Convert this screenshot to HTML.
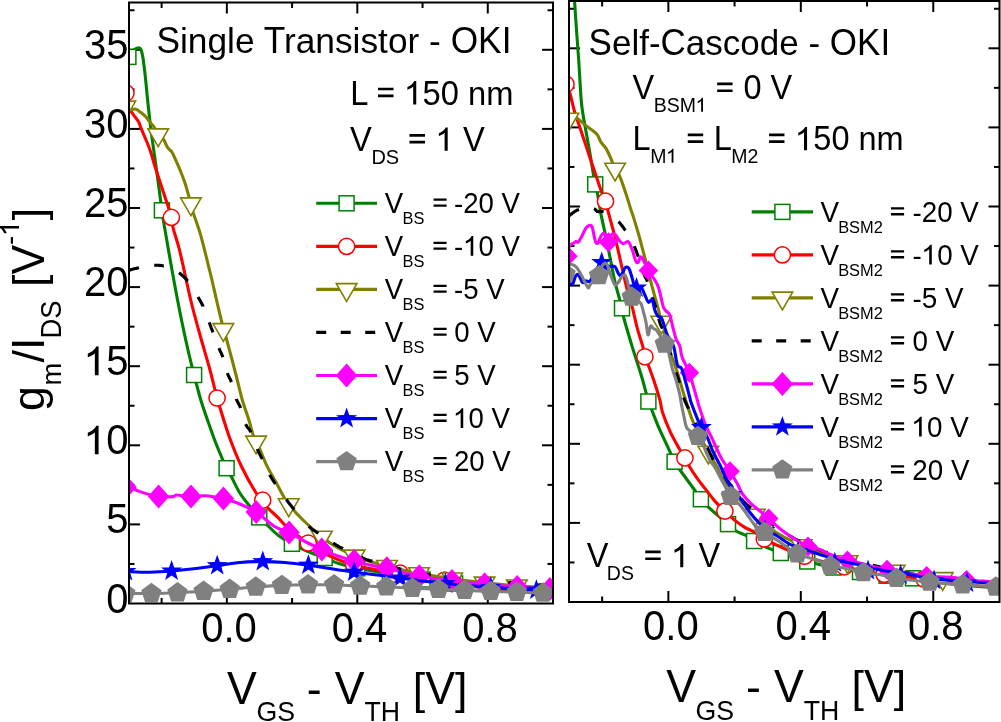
<!DOCTYPE html>
<html><head><meta charset="utf-8"><style>
html,body{margin:0;padding:0;background:#fff;}
svg{display:block;will-change:transform;}
text{font-family:"Liberation Sans",sans-serif;fill:#000;}
</style></head><body>
<svg width="1001" height="722" viewBox="0 0 1001 722">
<rect width="1001" height="722" fill="#fff"></rect>
<line x1="161.62" y1="603.5" x2="161.62" y2="598.0" stroke="#000" stroke-width="2"></line>
<line x1="161.62" y1="2.5" x2="161.62" y2="8.0" stroke="#000" stroke-width="2"></line>
<line x1="226.85" y1="603.5" x2="226.85" y2="592.5" stroke="#000" stroke-width="2"></line>
<line x1="226.85" y1="2.5" x2="226.85" y2="13.5" stroke="#000" stroke-width="2"></line>
<line x1="292.08" y1="603.5" x2="292.08" y2="598.0" stroke="#000" stroke-width="2"></line>
<line x1="292.08" y1="2.5" x2="292.08" y2="8.0" stroke="#000" stroke-width="2"></line>
<line x1="357.31" y1="603.5" x2="357.31" y2="592.5" stroke="#000" stroke-width="2"></line>
<line x1="357.31" y1="2.5" x2="357.31" y2="13.5" stroke="#000" stroke-width="2"></line>
<line x1="422.54" y1="603.5" x2="422.54" y2="598.0" stroke="#000" stroke-width="2"></line>
<line x1="422.54" y1="2.5" x2="422.54" y2="8.0" stroke="#000" stroke-width="2"></line>
<line x1="487.77" y1="603.5" x2="487.77" y2="592.5" stroke="#000" stroke-width="2"></line>
<line x1="487.77" y1="2.5" x2="487.77" y2="13.5" stroke="#000" stroke-width="2"></line>
<line x1="129.0" y1="563.95" x2="134.5" y2="563.95" stroke="#000" stroke-width="2"></line>
<line x1="553.0" y1="563.95" x2="547.5" y2="563.95" stroke="#000" stroke-width="2"></line>
<line x1="129.0" y1="524.40" x2="140.0" y2="524.40" stroke="#000" stroke-width="2"></line>
<line x1="553.0" y1="524.40" x2="542.0" y2="524.40" stroke="#000" stroke-width="2"></line>
<line x1="129.0" y1="484.85" x2="134.5" y2="484.85" stroke="#000" stroke-width="2"></line>
<line x1="553.0" y1="484.85" x2="547.5" y2="484.85" stroke="#000" stroke-width="2"></line>
<line x1="129.0" y1="445.30" x2="140.0" y2="445.30" stroke="#000" stroke-width="2"></line>
<line x1="553.0" y1="445.30" x2="542.0" y2="445.30" stroke="#000" stroke-width="2"></line>
<line x1="129.0" y1="405.75" x2="134.5" y2="405.75" stroke="#000" stroke-width="2"></line>
<line x1="553.0" y1="405.75" x2="547.5" y2="405.75" stroke="#000" stroke-width="2"></line>
<line x1="129.0" y1="366.20" x2="140.0" y2="366.20" stroke="#000" stroke-width="2"></line>
<line x1="553.0" y1="366.20" x2="542.0" y2="366.20" stroke="#000" stroke-width="2"></line>
<line x1="129.0" y1="326.65" x2="134.5" y2="326.65" stroke="#000" stroke-width="2"></line>
<line x1="553.0" y1="326.65" x2="547.5" y2="326.65" stroke="#000" stroke-width="2"></line>
<line x1="129.0" y1="287.10" x2="140.0" y2="287.10" stroke="#000" stroke-width="2"></line>
<line x1="553.0" y1="287.10" x2="542.0" y2="287.10" stroke="#000" stroke-width="2"></line>
<line x1="129.0" y1="247.55" x2="134.5" y2="247.55" stroke="#000" stroke-width="2"></line>
<line x1="553.0" y1="247.55" x2="547.5" y2="247.55" stroke="#000" stroke-width="2"></line>
<line x1="129.0" y1="208.00" x2="140.0" y2="208.00" stroke="#000" stroke-width="2"></line>
<line x1="553.0" y1="208.00" x2="542.0" y2="208.00" stroke="#000" stroke-width="2"></line>
<line x1="129.0" y1="168.45" x2="134.5" y2="168.45" stroke="#000" stroke-width="2"></line>
<line x1="553.0" y1="168.45" x2="547.5" y2="168.45" stroke="#000" stroke-width="2"></line>
<line x1="129.0" y1="128.90" x2="140.0" y2="128.90" stroke="#000" stroke-width="2"></line>
<line x1="553.0" y1="128.90" x2="542.0" y2="128.90" stroke="#000" stroke-width="2"></line>
<line x1="129.0" y1="89.35" x2="134.5" y2="89.35" stroke="#000" stroke-width="2"></line>
<line x1="553.0" y1="89.35" x2="547.5" y2="89.35" stroke="#000" stroke-width="2"></line>
<line x1="129.0" y1="49.80" x2="140.0" y2="49.80" stroke="#000" stroke-width="2"></line>
<line x1="553.0" y1="49.80" x2="542.0" y2="49.80" stroke="#000" stroke-width="2"></line>
<line x1="129.0" y1="10.25" x2="134.5" y2="10.25" stroke="#000" stroke-width="2"></line>
<line x1="553.0" y1="10.25" x2="547.5" y2="10.25" stroke="#000" stroke-width="2"></line>
<line x1="602.12" y1="602.0" x2="602.12" y2="596.5" stroke="#000" stroke-width="2"></line>
<line x1="602.12" y1="1.0" x2="602.12" y2="6.5" stroke="#000" stroke-width="2"></line>
<line x1="668.35" y1="602.0" x2="668.35" y2="591.0" stroke="#000" stroke-width="2"></line>
<line x1="668.35" y1="1.0" x2="668.35" y2="12.0" stroke="#000" stroke-width="2"></line>
<line x1="734.58" y1="602.0" x2="734.58" y2="596.5" stroke="#000" stroke-width="2"></line>
<line x1="734.58" y1="1.0" x2="734.58" y2="6.5" stroke="#000" stroke-width="2"></line>
<line x1="800.81" y1="602.0" x2="800.81" y2="591.0" stroke="#000" stroke-width="2"></line>
<line x1="800.81" y1="1.0" x2="800.81" y2="12.0" stroke="#000" stroke-width="2"></line>
<line x1="867.04" y1="602.0" x2="867.04" y2="596.5" stroke="#000" stroke-width="2"></line>
<line x1="867.04" y1="1.0" x2="867.04" y2="6.5" stroke="#000" stroke-width="2"></line>
<line x1="933.27" y1="602.0" x2="933.27" y2="591.0" stroke="#000" stroke-width="2"></line>
<line x1="933.27" y1="1.0" x2="933.27" y2="12.0" stroke="#000" stroke-width="2"></line>
<line x1="569.0" y1="562.45" x2="574.5" y2="562.45" stroke="#000" stroke-width="2"></line>
<line x1="999.5" y1="562.45" x2="994.0" y2="562.45" stroke="#000" stroke-width="2"></line>
<line x1="569.0" y1="522.90" x2="580.0" y2="522.90" stroke="#000" stroke-width="2"></line>
<line x1="999.5" y1="522.90" x2="988.5" y2="522.90" stroke="#000" stroke-width="2"></line>
<line x1="569.0" y1="483.35" x2="574.5" y2="483.35" stroke="#000" stroke-width="2"></line>
<line x1="999.5" y1="483.35" x2="994.0" y2="483.35" stroke="#000" stroke-width="2"></line>
<line x1="569.0" y1="443.80" x2="580.0" y2="443.80" stroke="#000" stroke-width="2"></line>
<line x1="999.5" y1="443.80" x2="988.5" y2="443.80" stroke="#000" stroke-width="2"></line>
<line x1="569.0" y1="404.25" x2="574.5" y2="404.25" stroke="#000" stroke-width="2"></line>
<line x1="999.5" y1="404.25" x2="994.0" y2="404.25" stroke="#000" stroke-width="2"></line>
<line x1="569.0" y1="364.70" x2="580.0" y2="364.70" stroke="#000" stroke-width="2"></line>
<line x1="999.5" y1="364.70" x2="988.5" y2="364.70" stroke="#000" stroke-width="2"></line>
<line x1="569.0" y1="325.15" x2="574.5" y2="325.15" stroke="#000" stroke-width="2"></line>
<line x1="999.5" y1="325.15" x2="994.0" y2="325.15" stroke="#000" stroke-width="2"></line>
<line x1="569.0" y1="285.60" x2="580.0" y2="285.60" stroke="#000" stroke-width="2"></line>
<line x1="999.5" y1="285.60" x2="988.5" y2="285.60" stroke="#000" stroke-width="2"></line>
<line x1="569.0" y1="246.05" x2="574.5" y2="246.05" stroke="#000" stroke-width="2"></line>
<line x1="999.5" y1="246.05" x2="994.0" y2="246.05" stroke="#000" stroke-width="2"></line>
<line x1="569.0" y1="206.50" x2="580.0" y2="206.50" stroke="#000" stroke-width="2"></line>
<line x1="999.5" y1="206.50" x2="988.5" y2="206.50" stroke="#000" stroke-width="2"></line>
<line x1="569.0" y1="166.95" x2="574.5" y2="166.95" stroke="#000" stroke-width="2"></line>
<line x1="999.5" y1="166.95" x2="994.0" y2="166.95" stroke="#000" stroke-width="2"></line>
<line x1="569.0" y1="127.40" x2="580.0" y2="127.40" stroke="#000" stroke-width="2"></line>
<line x1="999.5" y1="127.40" x2="988.5" y2="127.40" stroke="#000" stroke-width="2"></line>
<line x1="569.0" y1="87.85" x2="574.5" y2="87.85" stroke="#000" stroke-width="2"></line>
<line x1="999.5" y1="87.85" x2="994.0" y2="87.85" stroke="#000" stroke-width="2"></line>
<line x1="569.0" y1="48.30" x2="580.0" y2="48.30" stroke="#000" stroke-width="2"></line>
<line x1="999.5" y1="48.30" x2="988.5" y2="48.30" stroke="#000" stroke-width="2"></line>
<line x1="569.0" y1="8.75" x2="574.5" y2="8.75" stroke="#000" stroke-width="2"></line>
<line x1="999.5" y1="8.75" x2="994.0" y2="8.75" stroke="#000" stroke-width="2"></line>
<defs><clipPath id="cl"><rect x="129.0" y="2.5" width="424.0" height="601.0"></rect></clipPath><clipPath id="cr"><rect x="569.0" y="1.0" width="430.5" height="601.0"></rect></clipPath></defs>
<g clip-path="url(#cl)">
<path d="M128.4,56.9C129.3,55.7 132.6,51.2 134.0,49.8C135.4,48.4 136.0,48.6 136.8,48.3C137.6,47.9 138.0,47.7 138.6,47.7C139.2,47.8 139.8,48.0 140.3,48.6C140.8,49.2 141.2,50.3 141.6,51.5C142.0,52.7 142.3,54.5 142.6,56.0C142.9,57.5 143.0,57.7 143.4,60.8C143.8,63.9 144.6,70.1 145.1,74.7C145.6,79.3 146.1,84.3 146.5,88.5C146.9,92.7 146.9,93.6 147.6,100.0C148.3,106.4 149.6,118.8 150.6,127.1C151.6,135.4 152.6,142.0 153.7,150.0C154.8,158.0 156.0,166.4 157.2,175.0C158.4,183.6 159.9,195.4 160.7,201.3C161.5,207.2 161.5,207.2 161.9,210.3C162.3,213.4 161.6,210.1 163.3,220.0C165.0,229.9 169.0,253.3 172.0,270.0C175.0,286.7 178.8,306.7 181.5,320.0C184.2,333.3 185.9,340.8 188.0,350.0C190.1,359.2 192.0,366.7 194.1,375.0C196.2,383.3 198.5,392.2 200.8,400.0C203.2,407.8 205.8,415.2 208.2,422.0C210.6,428.8 212.6,434.8 215.0,441.0C217.4,447.2 220.5,454.5 222.4,459.0C224.3,463.5 225.1,465.2 226.6,468.2C228.1,471.2 229.3,472.9 231.5,477.0C233.7,481.1 236.8,488.1 239.8,493.0C242.9,497.9 246.6,502.2 249.8,506.3C253.1,510.4 256.4,514.3 259.3,517.4C262.2,520.5 263.9,521.9 267.0,524.8C270.1,527.7 273.7,531.8 277.8,535.0C281.9,538.2 286.9,541.0 291.9,543.8C296.9,546.5 302.5,549.1 308.0,551.5C313.5,553.9 319.6,556.0 324.7,558.0C329.8,560.0 333.3,561.7 338.7,563.4C344.1,565.1 350.8,566.9 357.3,568.3C363.8,569.7 372.5,571.0 377.9,572.0C383.3,573.0 382.5,573.2 389.9,574.5C397.3,575.8 411.6,578.0 422.5,579.5C433.4,581.0 444.2,582.0 455.1,583.5C466.0,585.0 476.8,587.3 487.7,588.5C498.6,589.7 509.4,590.1 520.3,590.5C531.2,590.9 547.5,590.9 553.0,591.0" fill="none" stroke="#008000" stroke-width="3.1" stroke-linejoin="round"></path>
<rect x="120.9" y="49.4" width="15.0" height="15.0" fill="#fff" stroke="#008000" stroke-width="1.5"></rect>
<rect x="154.4" y="202.8" width="15.0" height="15.0" fill="#fff" stroke="#008000" stroke-width="1.5"></rect>
<rect x="186.6" y="367.5" width="15.0" height="15.0" fill="#fff" stroke="#008000" stroke-width="1.5"></rect>
<rect x="219.1" y="460.7" width="15.0" height="15.0" fill="#fff" stroke="#008000" stroke-width="1.5"></rect>
<rect x="251.8" y="509.9" width="15.0" height="15.0" fill="#fff" stroke="#008000" stroke-width="1.5"></rect>
<rect x="284.4" y="536.3" width="15.0" height="15.0" fill="#fff" stroke="#008000" stroke-width="1.5"></rect>
<rect x="317.2" y="550.5" width="15.0" height="15.0" fill="#fff" stroke="#008000" stroke-width="1.5"></rect>
<rect x="349.8" y="560.8" width="15.0" height="15.0" fill="#fff" stroke="#008000" stroke-width="1.5"></rect>
<rect x="382.4" y="567.0" width="15.0" height="15.0" fill="#fff" stroke="#008000" stroke-width="1.5"></rect>
<rect x="415.0" y="572.0" width="15.0" height="15.0" fill="#fff" stroke="#008000" stroke-width="1.5"></rect>
<rect x="447.6" y="576.0" width="15.0" height="15.0" fill="#fff" stroke="#008000" stroke-width="1.5"></rect>
<path d="M126.0,93.0C126.4,95.0 127.6,101.9 128.5,105.0C129.4,108.1 130.0,109.4 131.2,111.5C132.3,113.6 134.2,115.7 135.4,117.4C136.6,119.1 137.6,120.0 138.5,121.6C139.4,123.2 139.5,124.4 140.6,127.1C141.7,129.8 143.4,133.7 145.0,137.5C146.6,141.3 148.3,145.2 150.0,150.0C151.7,154.8 153.0,160.2 155.0,166.5C157.0,172.8 159.7,180.9 162.0,188.0C164.3,195.1 167.4,204.1 169.0,209.0C170.6,213.9 170.7,214.2 171.4,217.4C172.1,220.6 171.8,222.5 173.2,228.3C174.6,234.1 177.1,240.1 180.0,252.0C182.9,263.9 187.4,286.2 190.7,300.0C194.0,313.8 196.8,323.3 200.0,335.0C203.2,346.7 207.2,359.5 210.0,370.0C212.8,380.5 215.4,391.8 217.1,398.0C218.8,404.2 217.8,400.8 219.9,407.5C222.0,414.2 226.2,428.4 229.8,438.2C233.4,448.0 237.2,457.5 241.5,466.5C245.8,475.5 252.1,486.6 255.6,492.2C259.1,497.8 260.6,497.6 262.7,500.2C264.8,502.8 265.4,505.1 267.9,508.0C270.4,510.9 274.1,513.7 277.8,517.4C281.5,521.1 284.9,525.7 290.0,530.0C295.1,534.3 301.7,538.7 308.2,543.0C314.7,547.3 321.4,552.0 329.0,555.7C336.6,559.4 346.0,562.7 353.7,565.0C361.4,567.3 367.2,568.1 375.0,569.5C382.8,570.9 388.6,571.5 400.2,573.2C411.8,575.0 429.5,577.5 444.5,580.0C459.5,582.5 474.8,586.8 490.0,588.5C505.2,590.2 525.0,590.1 535.5,590.5C546.0,590.9 550.1,590.9 553.0,591.0" fill="none" stroke="#FF0000" stroke-width="3.1" stroke-linejoin="round"></path>
<circle cx="126.0" cy="93.0" r="8.1" fill="#fff" stroke="#FF0000" stroke-width="1.5"></circle>
<circle cx="171.4" cy="217.4" r="8.1" fill="#fff" stroke="#FF0000" stroke-width="1.5"></circle>
<circle cx="217.1" cy="398.0" r="8.1" fill="#fff" stroke="#FF0000" stroke-width="1.5"></circle>
<circle cx="262.7" cy="500.2" r="8.1" fill="#fff" stroke="#FF0000" stroke-width="1.5"></circle>
<circle cx="308.2" cy="543.0" r="8.1" fill="#fff" stroke="#FF0000" stroke-width="1.5"></circle>
<circle cx="353.7" cy="565.0" r="8.1" fill="#fff" stroke="#FF0000" stroke-width="1.5"></circle>
<circle cx="400.2" cy="573.2" r="8.1" fill="#fff" stroke="#FF0000" stroke-width="1.5"></circle>
<circle cx="444.5" cy="580.0" r="8.1" fill="#fff" stroke="#FF0000" stroke-width="1.5"></circle>
<path d="M125.3,106.9C126.0,107.4 127.8,109.6 129.5,110.0C131.2,110.4 133.5,108.7 135.4,109.1C137.3,109.5 139.3,111.3 141.0,112.6C142.7,113.9 144.3,115.1 145.8,116.7C147.3,118.3 148.6,120.6 150.0,122.3C151.4,124.0 152.7,125.0 154.1,127.1C155.5,129.2 156.7,132.8 158.2,134.7C159.7,136.6 161.5,136.6 163.1,138.7C164.7,140.8 166.1,145.2 167.5,147.4C168.9,149.6 170.5,149.7 171.8,151.8C173.2,153.9 174.2,156.9 175.6,159.9C177.0,162.9 178.6,166.4 180.0,169.9C181.4,173.4 183.1,177.6 184.3,181.1C185.5,184.6 186.3,187.3 187.4,191.1C188.5,194.9 190.0,200.1 190.9,203.7C191.8,207.3 191.5,207.3 193.1,212.5C194.7,217.7 197.8,225.0 200.6,234.9C203.4,244.8 207.3,261.1 210.0,272.0C212.7,282.9 214.5,291.6 216.5,300.0C218.5,308.4 220.7,317.5 221.8,322.4C222.9,327.3 222.5,326.6 223.3,329.4C224.1,332.2 224.4,331.4 226.5,339.0C228.6,346.6 233.4,364.8 236.0,375.0C238.6,385.2 240.2,392.5 242.3,400.0C244.5,407.5 247.1,414.2 248.9,420.0C250.7,425.8 251.9,431.2 253.1,434.9C254.3,438.5 255.1,439.7 256.1,441.9C257.2,444.1 257.7,444.4 259.4,448.2C261.1,452.0 263.6,459.0 266.4,464.8C269.2,470.6 273.5,477.6 276.4,483.0C279.3,488.4 281.8,493.4 283.8,497.0C285.9,500.6 285.5,500.8 288.7,504.6C291.9,508.4 297.5,514.6 303.0,520.0C308.5,525.4 316.1,532.3 321.9,537.0C327.7,541.7 332.6,544.9 338.0,548.0C343.4,551.1 349.3,553.6 354.6,555.9C359.9,558.1 364.6,559.8 370.0,561.5C375.4,563.2 378.8,564.3 387.0,566.3C395.2,568.3 408.1,571.4 419.0,573.5C429.9,575.6 441.3,577.2 452.2,578.8C463.1,580.4 473.8,581.7 484.6,582.9C495.4,584.1 506.0,584.9 516.8,585.8C527.6,586.6 543.4,587.6 549.4,588.0C555.4,588.4 552.4,588.2 553.0,588.2" fill="none" stroke="#808000" stroke-width="3.1" stroke-linejoin="round"></path>
<polygon points="115.0,101.1 135.6,101.1 125.3,118.9" fill="#fff" stroke="#808000" stroke-width="1.6"></polygon>
<polygon points="147.9,128.9 168.5,128.9 158.2,146.7" fill="#fff" stroke="#808000" stroke-width="1.6"></polygon>
<polygon points="180.6,197.9 201.2,197.9 190.9,215.7" fill="#fff" stroke="#808000" stroke-width="1.6"></polygon>
<polygon points="213.0,323.6 233.6,323.6 223.3,341.4" fill="#fff" stroke="#808000" stroke-width="1.6"></polygon>
<polygon points="245.8,436.1 266.4,436.1 256.1,453.9" fill="#fff" stroke="#808000" stroke-width="1.6"></polygon>
<polygon points="278.4,498.8 299.0,498.8 288.7,516.6" fill="#fff" stroke="#808000" stroke-width="1.6"></polygon>
<polygon points="311.6,531.2 332.2,531.2 321.9,549.0" fill="#fff" stroke="#808000" stroke-width="1.6"></polygon>
<polygon points="344.3,550.1 364.9,550.1 354.6,567.9" fill="#fff" stroke="#808000" stroke-width="1.6"></polygon>
<polygon points="376.7,560.5 397.3,560.5 387.0,578.3" fill="#fff" stroke="#808000" stroke-width="1.6"></polygon>
<polygon points="408.7,567.7 429.3,567.7 419.0,585.5" fill="#fff" stroke="#808000" stroke-width="1.6"></polygon>
<polygon points="441.9,573.0 462.5,573.0 452.2,590.8" fill="#fff" stroke="#808000" stroke-width="1.6"></polygon>
<polygon points="474.3,577.1 494.9,577.1 484.6,594.9" fill="#fff" stroke="#808000" stroke-width="1.6"></polygon>
<polygon points="506.5,580.0 527.1,580.0 516.8,597.8" fill="#fff" stroke="#808000" stroke-width="1.6"></polygon>
<path d="M129.4,270.1 L129.5,270.1 L130.1,269.9 L130.8,269.7 L131.6,269.5 L132.4,269.3 L133.3,269.1 L134.3,268.8 L135.2,268.6 L136.2,268.4 L137.2,268.1 L138.1,267.9 L139.0,267.7 L139.0,267.7M154.2,265.2 L154.3,265.2 L155.0,265.2 L155.6,265.2 L156.2,265.2 L156.8,265.3 L157.4,265.3 L158.0,265.3 L158.6,265.3 L159.1,265.3 L159.6,265.4 L160.1,265.4 L160.5,265.4 L161.0,265.5 L161.5,265.5 L161.9,265.6 L162.4,265.7 L162.9,265.8 L163.4,265.9 L163.8,265.9M179.0,272.8 L179.5,273.2 L180.0,273.5 L180.4,273.9 L180.9,274.2 L181.3,274.5 L181.7,274.9 L182.1,275.2 L182.5,275.6 L182.9,275.9 L183.2,276.3 L183.6,276.6 L184.0,277.0 L184.4,277.4 L184.7,277.7 L185.0,278.0 L185.4,278.4 L185.7,278.7 L186.0,279.0 L186.3,279.4 L186.6,279.7 L187.0,280.1 L187.3,280.5 L187.6,280.9 L187.8,281.1M198.0,297.0 L198.4,297.7 L198.8,298.4 L199.2,299.1 L199.6,299.8 L200.0,300.5 L200.4,301.2 L200.8,301.9 L201.3,302.7 L201.7,303.5 L202.1,304.4 L202.5,305.3 L203.0,306.3 L203.0,306.4M209.1,322.3 L209.4,323.0 L209.8,324.0 L210.1,324.8 L210.4,325.7 L210.7,326.4 L211.0,327.2 L211.3,328.0 L211.6,328.7 L211.9,329.5 L212.2,330.4 L212.6,331.4 L213.0,332.4 L213.0,332.4M219.0,348.2 L219.4,349.2 L219.8,350.0 L220.1,350.8 L220.4,351.5 L220.7,352.1 L221.0,352.8 L221.3,353.4 L221.6,354.0 L221.9,354.7 L222.2,355.5 L222.5,356.3 L222.8,357.3 L222.8,357.3M227.3,373.1 L227.7,374.0 L228.0,374.8 L228.3,375.6 L228.7,376.3 L229.0,376.9 L229.3,377.5 L229.6,378.2 L230.0,378.8 L230.3,379.5 L230.7,380.3 L231.0,381.2 L231.4,382.2 L231.4,382.2M236.4,398.9 L236.4,399.0 L236.8,400.0 L237.1,400.9 L237.5,401.6 L237.8,402.3 L238.2,402.9 L238.5,403.6 L238.8,404.1 L239.2,404.8 L239.5,405.4 L239.9,406.2 L240.2,407.0 L240.6,408.0M245.6,424.1 L246.0,424.9 L246.5,425.7 L246.9,426.4 L247.3,427.1 L247.8,427.6 L248.2,428.2 L248.7,428.7 L249.1,429.3 L249.6,429.9 L250.0,430.6 L250.5,431.4 L251.0,432.4M257.3,449.0 L257.7,450.0 L258.2,451.0 L258.6,451.8 L258.9,452.6 L259.3,453.3 L259.7,454.0 L260.0,454.8 L260.4,455.5 L260.8,456.2 L261.2,457.1 L261.7,458.0 L262.2,459.0M269.7,474.8 L270.2,475.8 L270.7,476.6 L271.2,477.4 L271.6,478.1 L272.0,478.8 L272.4,479.4 L272.8,480.1 L273.3,480.7 L273.7,481.4 L274.3,482.2 L274.8,483.0 L275.5,483.9M286.3,499.4 L287.0,500.4 L287.7,501.3 L288.3,502.2 L288.9,503.0 L289.5,503.7 L290.1,504.5 L290.7,505.2 L291.3,506.0 L291.9,506.8 L292.6,507.7 L293.4,508.6 L294.3,509.7M308.7,526.3 L309.7,527.2 L310.5,528.0 L311.4,528.7 L312.1,529.2 L312.9,529.8 L313.6,530.2 L314.3,530.7 L315.1,531.1 L315.8,531.6 L316.6,532.1 L317.5,532.7 L318.4,533.3M333.1,543.1 L334.0,543.6 L334.8,544.2 L335.6,544.6 L336.4,545.1 L337.1,545.5 L337.8,545.9 L338.5,546.3 L339.2,546.8 L340.0,547.2 L340.9,547.6 L341.9,548.1 L342.9,548.7M361.1,557.1 L361.9,557.4 L362.6,557.8 L363.2,558.1 L363.6,558.3 L363.9,558.5 L364.2,558.6 L364.6,558.8 L365.0,559.0 L365.5,559.2 L366.1,559.4 L366.9,559.7 L368.0,560.0 L369.3,560.4 L370.8,560.8 L372.3,561.3M389.7,565.9 L390.0,566.0 L391.6,566.5 L393.2,566.9 L394.7,567.3 L396.1,567.7 L397.5,568.2 L398.9,568.6 L400.3,569.0 L401.2,569.2M418.8,572.9 L420.3,573.2 L422.8,573.6 L425.4,574.0 L428.0,574.5 L430.6,574.9 L430.7,574.9M448.5,577.4 L449.0,577.5 L451.1,577.7 L453.3,578.0 L455.5,578.2 L457.7,578.5 L460.1,578.7 L460.4,578.7M478.4,580.4 L480.9,580.6 L483.7,580.8 L486.7,581.0 L489.8,581.3 L490.3,581.3M508.3,582.6 L508.4,582.6 L513.2,582.9 L518.3,583.2 L520.3,583.4M538.2,584.5 L538.6,584.6 L543.1,584.9 L547.0,585.1 L550.2,585.3" fill="none" stroke="#000000" stroke-width="3.1" stroke-linejoin="round"></path>
<path d="M126.0,487.0C126.5,486.9 126.7,485.8 129.0,486.6C131.3,487.4 135.1,489.9 140.0,491.6C144.9,493.3 153.1,495.8 158.6,496.6C164.1,497.4 170.2,496.9 173.2,496.6C176.2,496.3 173.5,495.0 176.5,495.0C179.5,495.0 186.3,496.5 191.0,496.6C195.7,496.7 199.3,495.5 204.7,495.8C210.1,496.1 217.8,497.4 223.4,498.6C229.0,499.9 232.5,501.1 238.0,503.3C243.5,505.5 250.1,508.1 256.2,512.0C262.3,515.9 269.0,523.1 274.5,526.5C280.0,529.9 284.0,530.0 289.1,532.5C294.2,535.0 299.6,538.7 305.0,541.5C310.4,544.3 316.3,547.0 321.8,549.4C327.3,551.8 332.6,554.1 338.0,556.0C343.4,557.9 348.9,559.3 354.2,560.8C359.5,562.3 364.6,563.8 370.0,565.0C375.4,566.2 381.3,567.0 386.8,568.2C392.3,569.5 397.6,571.1 403.0,572.5C408.4,573.9 411.1,574.9 419.3,576.3C427.5,577.7 441.1,579.8 452.0,581.1C462.9,582.4 473.7,583.3 484.6,584.3C495.5,585.3 506.3,586.1 517.2,586.9C528.1,587.7 543.8,588.7 549.8,589.1C555.8,589.5 552.5,589.3 553.0,589.3" fill="none" stroke="#FF00FF" stroke-width="3.1" stroke-linejoin="round"></path>
<polygon points="126.0,475.0 136.7,487.0 126.0,499.0 115.3,487.0" fill="#FF00FF"></polygon>
<polygon points="158.6,484.6 169.3,496.6 158.6,508.6 147.9,496.6" fill="#FF00FF"></polygon>
<polygon points="191.0,484.6 201.7,496.6 191.0,508.6 180.3,496.6" fill="#FF00FF"></polygon>
<polygon points="223.4,486.6 234.1,498.6 223.4,510.6 212.7,498.6" fill="#FF00FF"></polygon>
<polygon points="256.2,500.0 266.9,512.0 256.2,524.0 245.5,512.0" fill="#FF00FF"></polygon>
<polygon points="289.1,520.5 299.8,532.5 289.1,544.5 278.4,532.5" fill="#FF00FF"></polygon>
<polygon points="321.8,537.4 332.5,549.4 321.8,561.4 311.1,549.4" fill="#FF00FF"></polygon>
<polygon points="354.2,548.8 364.9,560.8 354.2,572.8 343.5,560.8" fill="#FF00FF"></polygon>
<polygon points="386.8,556.2 397.5,568.2 386.8,580.2 376.1,568.2" fill="#FF00FF"></polygon>
<polygon points="419.3,564.3 430.0,576.3 419.3,588.3 408.6,576.3" fill="#FF00FF"></polygon>
<polygon points="452.0,569.1 462.7,581.1 452.0,593.1 441.3,581.1" fill="#FF00FF"></polygon>
<polygon points="484.6,572.3 495.3,584.3 484.6,596.3 473.9,584.3" fill="#FF00FF"></polygon>
<polygon points="517.2,574.9 527.9,586.9 517.2,598.9 506.5,586.9" fill="#FF00FF"></polygon>
<polygon points="549.8,577.1 560.5,589.1 549.8,601.1 539.1,589.1" fill="#FF00FF"></polygon>
<path d="M126.0,571.5C130.0,571.6 142.4,572.3 150.0,572.2C157.6,572.1 163.3,571.7 171.6,571.0C179.9,570.3 192.4,568.9 200.0,568.0C207.6,567.1 210.5,566.6 217.2,565.7C223.9,564.8 232.4,563.2 240.0,562.5C247.6,561.8 255.3,561.6 262.8,561.6C270.3,561.6 277.4,561.9 285.0,562.5C292.6,563.1 300.9,564.2 308.4,565.2C315.9,566.2 322.4,567.3 330.0,568.5C337.6,569.7 346.4,571.1 354.2,572.2C362.0,573.3 369.4,574.0 377.0,575.0C384.6,576.0 388.6,576.6 400.0,578.0C411.4,579.4 430.3,582.0 445.4,583.5C460.5,585.0 475.6,586.2 490.8,587.3C506.0,588.4 526.0,589.6 536.4,590.2C546.8,590.8 550.2,590.9 553.0,591.0" fill="none" stroke="#0000FF" stroke-width="3.1" stroke-linejoin="round"></path>
<polygon points="126.0,560.5 128.6,567.9 136.5,568.1 130.2,572.9 132.5,580.4 126.0,575.9 119.5,580.4 121.8,572.9 115.5,568.1 123.4,567.9" fill="#0000FF"></polygon>
<polygon points="171.6,560.0 174.2,567.4 182.1,567.6 175.8,572.4 178.1,579.9 171.6,575.4 165.1,579.9 167.4,572.4 161.1,567.6 169.0,567.4" fill="#0000FF"></polygon>
<polygon points="217.2,554.7 219.8,562.1 227.7,562.3 221.4,567.1 223.7,574.6 217.2,570.1 210.7,574.6 213.0,567.1 206.7,562.3 214.6,562.1" fill="#0000FF"></polygon>
<polygon points="262.8,550.6 265.4,558.0 273.3,558.2 267.0,563.0 269.3,570.5 262.8,566.0 256.3,570.5 258.6,563.0 252.3,558.2 260.2,558.0" fill="#0000FF"></polygon>
<polygon points="308.4,554.2 311.0,561.6 318.9,561.8 312.6,566.6 314.9,574.1 308.4,569.6 301.9,574.1 304.2,566.6 297.9,561.8 305.8,561.6" fill="#0000FF"></polygon>
<polygon points="354.2,561.2 356.8,568.6 364.7,568.8 358.4,573.6 360.7,581.1 354.2,576.6 347.7,581.1 350.0,573.6 343.7,568.8 351.6,568.6" fill="#0000FF"></polygon>
<polygon points="400.0,567.0 402.6,574.4 410.5,574.6 404.2,579.4 406.5,586.9 400.0,582.4 393.5,586.9 395.8,579.4 389.5,574.6 397.4,574.4" fill="#0000FF"></polygon>
<polygon points="445.4,572.5 448.0,579.9 455.9,580.1 449.6,584.9 451.9,592.4 445.4,587.9 438.9,592.4 441.2,584.9 434.9,580.1 442.8,579.9" fill="#0000FF"></polygon>
<polygon points="490.8,576.3 493.4,583.7 501.3,583.9 495.0,588.7 497.3,596.2 490.8,591.7 484.3,596.2 486.6,588.7 480.3,583.9 488.2,583.7" fill="#0000FF"></polygon>
<polygon points="536.4,579.2 539.0,586.6 546.9,586.8 540.6,591.6 542.9,599.1 536.4,594.6 529.9,599.1 532.2,591.6 525.9,586.8 533.8,586.6" fill="#0000FF"></polygon>
<path d="M125.3,593.5C129.7,593.5 142.7,593.6 151.4,593.5C160.1,593.4 168.8,593.1 177.5,592.7C186.2,592.3 194.9,591.8 203.6,591.2C212.3,590.6 221.0,590.0 229.7,589.3C238.4,588.6 247.1,587.6 255.8,587.0C264.5,586.4 273.2,585.8 281.9,585.4C290.6,585.0 299.3,584.9 308.0,584.8C316.7,584.7 325.4,584.6 334.1,584.8C342.8,585.0 351.5,585.7 360.2,586.0C368.9,586.3 377.6,586.4 386.3,586.8C395.0,587.2 403.7,587.8 412.4,588.2C421.1,588.6 429.8,588.9 438.5,589.3C447.2,589.7 455.9,590.0 464.6,590.4C473.3,590.8 482.0,591.1 490.7,591.4C499.4,591.7 508.1,591.9 516.8,592.2C525.5,592.5 536.9,592.8 542.9,593.0C548.9,593.2 551.3,593.2 553.0,593.2" fill="none" stroke="#808080" stroke-width="3.1" stroke-linejoin="round"></path>
<polygon points="125.3,582.8 135.5,590.2 131.6,602.2 119.0,602.2 115.1,590.2" fill="#808080"></polygon>
<polygon points="151.4,582.8 161.6,590.2 157.7,602.2 145.1,602.2 141.2,590.2" fill="#808080"></polygon>
<polygon points="177.5,582.0 187.7,589.4 183.8,601.4 171.2,601.4 167.3,589.4" fill="#808080"></polygon>
<polygon points="203.6,580.5 213.8,587.9 209.9,599.9 197.3,599.9 193.4,587.9" fill="#808080"></polygon>
<polygon points="229.7,578.6 239.9,586.0 236.0,598.0 223.4,598.0 219.5,586.0" fill="#808080"></polygon>
<polygon points="255.8,576.3 266.0,583.7 262.1,595.7 249.5,595.7 245.6,583.7" fill="#808080"></polygon>
<polygon points="281.9,574.7 292.1,582.1 288.2,594.1 275.6,594.1 271.7,582.1" fill="#808080"></polygon>
<polygon points="308.0,574.1 318.2,581.5 314.3,593.5 301.7,593.5 297.8,581.5" fill="#808080"></polygon>
<polygon points="334.1,574.1 344.3,581.5 340.4,593.5 327.8,593.5 323.9,581.5" fill="#808080"></polygon>
<polygon points="360.2,575.3 370.4,582.7 366.5,594.7 353.9,594.7 350.0,582.7" fill="#808080"></polygon>
<polygon points="386.3,576.1 396.5,583.5 392.6,595.5 380.0,595.5 376.1,583.5" fill="#808080"></polygon>
<polygon points="412.4,577.5 422.6,584.9 418.7,596.9 406.1,596.9 402.2,584.9" fill="#808080"></polygon>
<polygon points="438.5,578.6 448.7,586.0 444.8,598.0 432.2,598.0 428.3,586.0" fill="#808080"></polygon>
<polygon points="464.6,579.7 474.8,587.1 470.9,599.1 458.3,599.1 454.4,587.1" fill="#808080"></polygon>
<polygon points="490.7,580.7 500.9,588.1 497.0,600.1 484.4,600.1 480.5,588.1" fill="#808080"></polygon>
<polygon points="516.8,581.5 527.0,588.9 523.1,600.9 510.5,600.9 506.6,588.9" fill="#808080"></polygon>
<polygon points="542.9,582.3 553.1,589.7 549.2,601.7 536.6,601.7 532.7,589.7" fill="#808080"></polygon>
</g>
<g clip-path="url(#cr)">
<path d="M574.0,-8.0C574.1,-6.4 574.2,-4.8 574.6,1.5C575.0,7.8 575.8,20.2 576.5,30.0C577.2,39.8 577.9,48.3 578.7,60.0C579.5,71.7 580.4,90.2 581.2,100.0C582.0,109.8 582.4,110.4 583.7,118.7C585.1,127.0 587.6,140.2 589.3,149.8C591.0,159.4 592.7,170.2 593.7,176.0C594.7,181.8 594.6,181.6 595.2,184.4C595.8,187.2 596.4,188.0 597.4,193.1C598.4,198.2 599.9,208.4 601.1,214.9C602.4,221.4 603.3,224.8 604.9,232.3C606.5,239.8 608.9,251.7 610.5,259.8C612.1,267.9 613.2,274.4 614.8,281.1C616.3,287.8 618.6,295.3 619.8,299.8C621.0,304.3 621.4,305.4 622.0,308.3C622.6,311.2 622.0,311.0 623.7,317.5C625.4,324.0 629.5,337.8 632.4,347.4C635.3,356.9 638.8,367.2 641.1,374.8C643.4,382.4 644.9,388.4 646.1,392.9C647.3,397.3 647.5,398.6 648.4,401.5C649.3,404.4 650.1,405.7 651.8,410.0C653.5,414.3 656.1,421.4 658.7,427.4C661.3,433.4 664.8,440.4 667.4,446.1C670.0,451.8 672.5,457.7 674.6,461.7C676.7,465.7 676.6,465.2 680.0,470.0C683.4,474.8 691.4,485.6 694.9,490.5C698.4,495.4 698.6,496.4 700.9,499.2C703.2,502.0 705.6,504.6 708.6,507.4C711.6,510.2 715.4,513.3 718.6,516.1C721.8,518.9 725.1,521.6 728.0,524.1C730.9,526.6 733.0,529.1 736.0,531.0C739.0,532.9 743.0,533.8 746.0,535.5C749.0,537.2 750.6,539.0 754.1,541.0C757.6,543.0 762.5,545.5 767.0,547.5C771.5,549.5 774.1,550.7 780.8,553.0C787.5,555.3 798.5,559.1 807.3,561.5C816.1,563.9 824.8,565.8 833.6,567.5C842.4,569.2 851.2,570.6 860.0,572.0C868.8,573.4 877.8,574.7 886.6,575.7C895.4,576.8 904.2,577.2 913.0,578.3C921.8,579.4 930.8,581.3 939.6,582.5C948.5,583.7 957.3,584.7 966.1,585.5C974.9,586.3 987.0,587.1 992.6,587.5C998.2,587.9 998.8,587.9 1000.0,588.0" fill="none" stroke="#008000" stroke-width="3.1" stroke-linejoin="round"></path>
<rect x="587.7" y="176.9" width="15.0" height="15.0" fill="#fff" stroke="#008000" stroke-width="1.5"></rect>
<rect x="614.5" y="300.8" width="15.0" height="15.0" fill="#fff" stroke="#008000" stroke-width="1.5"></rect>
<rect x="640.9" y="394.0" width="15.0" height="15.0" fill="#fff" stroke="#008000" stroke-width="1.5"></rect>
<rect x="667.1" y="454.2" width="15.0" height="15.0" fill="#fff" stroke="#008000" stroke-width="1.5"></rect>
<rect x="693.4" y="491.7" width="15.0" height="15.0" fill="#fff" stroke="#008000" stroke-width="1.5"></rect>
<rect x="720.5" y="516.6" width="15.0" height="15.0" fill="#fff" stroke="#008000" stroke-width="1.5"></rect>
<rect x="746.6" y="533.5" width="15.0" height="15.0" fill="#fff" stroke="#008000" stroke-width="1.5"></rect>
<rect x="773.3" y="545.5" width="15.0" height="15.0" fill="#fff" stroke="#008000" stroke-width="1.5"></rect>
<rect x="799.8" y="554.0" width="15.0" height="15.0" fill="#fff" stroke="#008000" stroke-width="1.5"></rect>
<rect x="826.1" y="560.0" width="15.0" height="15.0" fill="#fff" stroke="#008000" stroke-width="1.5"></rect>
<rect x="852.5" y="564.5" width="15.0" height="15.0" fill="#fff" stroke="#008000" stroke-width="1.5"></rect>
<rect x="879.1" y="568.2" width="15.0" height="15.0" fill="#fff" stroke="#008000" stroke-width="1.5"></rect>
<rect x="905.5" y="570.8" width="15.0" height="15.0" fill="#fff" stroke="#008000" stroke-width="1.5"></rect>
<path d="M566.0,84.3C566.6,85.7 568.8,89.9 569.7,92.5C570.6,95.1 570.7,96.5 571.6,100.0C572.5,103.5 574.0,109.8 575.0,113.3C576.0,116.8 576.7,118.3 577.7,121.2C578.7,124.1 579.5,126.3 580.9,130.5C582.3,134.7 584.2,140.4 586.1,146.1C588.0,151.8 590.5,159.5 592.3,164.8C594.1,170.1 595.3,173.6 596.8,178.0C598.3,182.4 599.9,187.4 601.4,191.3C602.9,195.2 604.4,197.9 605.5,201.2C606.6,204.5 606.5,205.4 608.0,211.2C609.5,217.0 613.0,229.3 614.8,236.1C616.5,242.9 617.2,246.5 618.5,252.0C619.8,257.5 620.8,262.7 622.3,269.0C623.8,275.3 625.6,283.6 627.3,290.0C629.0,296.4 630.6,300.9 632.3,307.3C634.0,313.8 635.6,322.0 637.4,328.7C639.2,335.4 641.8,342.7 643.0,347.4C644.2,352.1 644.0,353.7 644.9,356.8C645.8,359.9 647.1,362.2 648.6,366.0C650.1,369.8 651.7,374.2 653.6,379.8C655.5,385.4 658.3,394.3 659.8,399.7C661.3,405.1 660.7,406.8 662.4,412.0C664.1,417.2 667.1,425.0 669.9,431.1C672.7,437.2 676.7,444.1 679.2,448.6C681.7,453.1 683.2,455.0 684.9,457.9C686.6,460.8 687.2,462.7 689.3,466.2C691.4,469.7 694.6,474.8 697.4,478.7C700.2,482.6 703.2,486.2 706.1,489.9C709.0,493.6 711.8,497.6 714.9,501.1C718.0,504.6 721.6,507.9 724.9,511.1C728.2,514.3 731.5,517.7 734.8,520.4C738.1,523.1 741.5,525.3 744.8,527.3C748.1,529.3 751.5,530.3 754.7,532.3C758.0,534.2 760.8,536.9 764.3,539.0C767.8,541.1 771.6,542.7 775.9,544.7C780.2,546.7 785.2,549.1 790.0,551.0C794.8,552.9 798.8,554.4 804.5,556.2C810.2,558.0 817.4,560.2 824.0,562.0C830.6,563.8 837.6,565.3 844.3,566.8C851.0,568.3 857.4,569.7 864.0,571.0C870.6,572.3 874.1,573.1 884.1,574.4C894.1,575.7 913.8,577.6 923.9,579.0C934.0,580.4 938.4,581.5 945.0,582.5C951.6,583.5 954.5,583.9 963.7,584.7C972.9,585.5 994.0,586.8 1000.0,587.2" fill="none" stroke="#FF0000" stroke-width="3.1" stroke-linejoin="round"></path>
<circle cx="566.0" cy="84.3" r="8.1" fill="#fff" stroke="#FF0000" stroke-width="1.5"></circle>
<circle cx="605.5" cy="201.2" r="8.1" fill="#fff" stroke="#FF0000" stroke-width="1.5"></circle>
<circle cx="644.9" cy="356.8" r="8.1" fill="#fff" stroke="#FF0000" stroke-width="1.5"></circle>
<circle cx="684.9" cy="457.9" r="8.1" fill="#fff" stroke="#FF0000" stroke-width="1.5"></circle>
<circle cx="724.9" cy="511.1" r="8.1" fill="#fff" stroke="#FF0000" stroke-width="1.5"></circle>
<circle cx="764.3" cy="539.0" r="8.1" fill="#fff" stroke="#FF0000" stroke-width="1.5"></circle>
<circle cx="804.5" cy="556.2" r="8.1" fill="#fff" stroke="#FF0000" stroke-width="1.5"></circle>
<circle cx="844.3" cy="566.8" r="8.1" fill="#fff" stroke="#FF0000" stroke-width="1.5"></circle>
<circle cx="884.1" cy="574.4" r="8.1" fill="#fff" stroke="#FF0000" stroke-width="1.5"></circle>
<circle cx="923.9" cy="579.0" r="8.1" fill="#fff" stroke="#FF0000" stroke-width="1.5"></circle>
<path d="M568.5,119.0C569.1,118.9 570.5,118.3 572.0,118.3C573.5,118.2 575.3,117.6 577.5,118.7C579.7,119.8 582.6,123.0 585.0,124.9C587.4,126.8 589.7,128.2 591.8,129.9C593.9,131.6 595.8,132.8 597.4,134.9C599.0,137.0 599.6,140.1 601.1,142.4C602.6,144.7 604.5,145.9 606.1,148.6C607.7,151.2 609.3,154.9 610.8,158.3C612.3,161.7 613.7,166.2 615.1,169.0C616.5,171.8 617.9,172.5 619.1,174.9C620.3,177.3 621.1,179.7 622.4,183.2C623.6,186.7 625.2,191.4 626.6,195.7C628.0,200.0 629.6,205.5 630.7,209.0C631.8,212.5 632.0,212.5 633.3,216.6C634.6,220.7 636.9,228.4 638.3,233.3C639.7,238.2 640.6,241.6 641.7,245.8C642.8,250.0 644.0,254.3 645.0,258.3C646.0,262.3 647.0,266.0 648.0,270.0C649.0,274.0 649.9,278.0 651.0,282.4C652.1,286.8 653.5,291.5 654.7,296.1C656.0,300.7 657.4,305.5 658.5,309.8C659.6,314.1 660.2,317.6 661.3,322.0C662.4,326.4 663.6,331.2 665.0,336.0C666.4,340.8 667.8,344.9 669.8,351.0C671.8,357.1 674.8,364.6 677.3,372.3C679.8,380.0 682.2,389.3 684.7,397.2C687.2,405.1 689.8,413.4 692.3,419.9C694.8,426.4 697.3,430.6 700.0,436.0C702.7,441.4 705.4,446.8 708.3,452.0C711.2,457.2 714.7,462.7 717.2,467.3C719.7,471.9 719.7,474.2 723.5,479.7C727.3,485.1 734.8,494.1 740.0,500.0C745.2,505.9 748.9,509.6 754.9,515.0C760.9,520.4 768.1,527.2 775.9,532.3C783.7,537.4 793.3,541.8 801.5,545.5C809.7,549.2 817.3,551.8 825.0,554.5C832.7,557.2 840.0,559.5 847.5,561.5C855.0,563.5 862.1,564.9 870.0,566.5C877.9,568.1 886.7,569.6 894.7,571.0C902.7,572.4 910.0,573.8 918.0,575.0C926.0,576.2 934.7,577.4 942.7,578.4C950.7,579.4 958.2,580.2 966.0,581.0C973.8,581.8 983.6,582.6 989.3,583.0C995.0,583.4 998.2,583.5 1000.0,583.6" fill="none" stroke="#808000" stroke-width="3.1" stroke-linejoin="round"></path>
<polygon points="558.2,113.2 578.8,113.2 568.5,131.0" fill="#fff" stroke="#808000" stroke-width="1.6"></polygon>
<polygon points="604.8,163.2 625.4,163.2 615.1,181.0" fill="#fff" stroke="#808000" stroke-width="1.6"></polygon>
<polygon points="651.0,316.2 671.6,316.2 661.3,334.0" fill="#fff" stroke="#808000" stroke-width="1.6"></polygon>
<polygon points="698.0,446.2 718.6,446.2 708.3,464.0" fill="#fff" stroke="#808000" stroke-width="1.6"></polygon>
<polygon points="744.6,509.2 765.2,509.2 754.9,527.0" fill="#fff" stroke="#808000" stroke-width="1.6"></polygon>
<polygon points="791.2,539.7 811.8,539.7 801.5,557.5" fill="#fff" stroke="#808000" stroke-width="1.6"></polygon>
<polygon points="837.2,555.7 857.8,555.7 847.5,573.5" fill="#fff" stroke="#808000" stroke-width="1.6"></polygon>
<polygon points="884.4,565.2 905.0,565.2 894.7,583.0" fill="#fff" stroke="#808000" stroke-width="1.6"></polygon>
<polygon points="932.4,572.6 953.0,572.6 942.7,590.4" fill="#fff" stroke="#808000" stroke-width="1.6"></polygon>
<path d="M569.0,216.0 L569.2,215.8 L569.5,215.5 L569.9,215.2 L570.3,214.9 L570.7,214.5 L571.2,214.2 L571.7,213.8 L572.1,213.4 L572.6,213.0 L573.1,212.6 L573.6,212.3 L574.0,212.0 L574.4,211.7 L574.8,211.5 L575.2,211.2 L575.6,211.0 L576.0,210.8 L576.4,210.6 L576.8,210.4 L577.2,210.2 L577.6,210.0 L578.1,209.8 L578.5,209.7 L579.0,209.5M594.0,208.7 L594.4,208.9 L594.8,209.1 L595.1,209.3 L595.4,209.6 L595.6,209.8 L595.9,210.1 L596.1,210.4 L596.3,210.7 L596.5,210.9 L596.8,211.2 L597.1,211.4 L597.5,211.5 L597.9,211.6 L598.4,211.6 L598.8,211.6 L599.3,211.6 L599.8,211.6 L600.4,211.5 L600.9,211.5 L601.5,211.5 L602.0,211.5 L602.6,211.5 L603.1,211.6 L603.6,211.7M618.6,221.7 L619.2,222.3 L619.8,223.0 L620.4,223.7 L621.0,224.5 L621.6,225.2 L622.2,226.0 L622.8,226.8 L623.3,227.6 L623.9,228.3 L624.4,229.1 L624.9,229.8 L625.4,230.5M634.2,246.2 L634.5,247.0 L634.9,247.8 L635.3,248.7 L635.6,249.6 L636.0,250.5 L636.3,251.4 L636.7,252.4 L637.0,253.3 L637.4,254.2 L637.7,255.1 L638.0,255.9 L638.3,256.7 L638.3,256.7M643.2,271.6 L643.3,271.8 L643.6,272.8 L643.9,273.7 L644.2,274.6 L644.5,275.4 L644.8,276.1 L645.0,276.7 L645.3,277.1 L645.4,277.5 L645.6,277.8 L645.8,278.0 L645.9,278.2 L646.1,278.5 L646.3,278.8 L646.5,279.1 L646.7,279.6 L646.9,280.2 L647.2,281.0 L647.4,281.7M652.2,297.3 L652.5,298.3 L652.8,299.1 L653.1,299.8 L653.3,300.5 L653.6,301.1 L653.8,301.7 L654.0,302.2 L654.2,302.8 L654.5,303.5 L654.7,304.2 L655.0,305.0 L655.3,306.0 L655.6,307.1 L655.8,307.7M658.6,318.5 L658.7,318.7 L659.1,320.0 L659.4,321.2 L659.7,322.2 L660.0,323.1 L660.2,323.8 L660.5,324.3 L660.7,324.8 L660.9,325.3 L661.0,325.6 L661.2,326.0 L661.4,326.4 L661.6,326.8 L661.8,327.3 L662.1,327.8 L662.3,328.5 L662.4,328.8M667.5,345.0 L667.6,345.4 L668.0,346.5 L668.3,347.6 L668.6,348.7 L668.9,349.7 L669.2,350.7 L669.5,351.6 L669.8,352.4 L670.1,353.1 L670.3,353.8 L670.5,354.3 L670.7,354.8 L670.9,355.2 L671.0,355.4M676.0,372.3 L676.2,373.1 L676.5,373.7 L676.6,374.2 L676.8,374.7 L677.0,375.1 L677.2,375.4 L677.3,375.8 L677.5,376.3 L677.7,376.8 L677.9,377.5 L678.2,378.2 L678.5,379.2 L678.8,380.3 L679.2,381.7 L679.5,382.7M683.6,397.5 L684.0,398.7 L684.4,399.7 L684.8,400.6 L685.1,401.5 L685.5,402.3 L685.8,403.0 L686.2,403.8 L686.6,404.6 L687.0,405.5 L687.5,406.4 L688.0,407.5 L688.6,408.7 L688.6,408.7M695.5,422.8 L695.6,423.0 L696.4,424.7 L697.2,426.4 L698.0,428.0 L698.8,429.6 L699.6,431.3 L700.4,433.0 L700.7,433.6M707.3,447.3 L707.9,448.6 L708.4,449.7 L708.9,450.7 L709.3,451.7 L709.7,452.6 L710.1,453.5 L710.6,454.4 L711.0,455.3 L711.5,456.3 L712.1,457.3 L712.7,458.5 L713.5,459.8 L713.5,459.8M724.5,476.4 L724.6,476.6 L725.8,478.3 L727.0,480.0 L728.2,481.6 L729.4,483.3 L730.6,485.0 L731.8,486.7 L732.6,487.8M741.0,498.6 L741.9,499.7 L742.8,500.6 L743.6,501.5 L744.3,502.2 L745.0,502.9 L745.7,503.5 L746.4,504.2 L747.1,504.8 L748.0,505.5 L748.9,506.2 L749.9,507.0 L751.0,508.0M763.6,518.2 L765.0,519.3 L766.7,520.6 L768.4,521.8 L770.0,523.0 L771.6,524.2 L773.3,525.3 L774.1,525.9M788.4,535.1 L790.0,536.0 L791.7,536.9 L793.3,537.9 L795.0,538.8 L796.7,539.6 L798.3,540.5 L799.9,541.3M815.3,548.3 L816.3,548.6 L817.8,549.3 L819.4,549.8 L821.0,550.4 L822.6,551.0 L824.3,551.6 L826.1,552.2 L827.6,552.7M843.8,557.6 L846.3,558.3 L848.9,559.1 L851.6,559.8 L854.3,560.5 L856.4,561.1M872.8,565.2 L876.0,566.0 L879.4,566.8 L882.8,567.7 L885.5,568.3M902.1,571.9 L903.3,572.2 L906.4,572.8 L909.5,573.5 L912.6,574.1 L914.8,574.6M931.6,577.4 L932.2,577.5 L936.0,578.0 L940.0,578.5 L944.5,578.9M961.4,580.2 L966.6,580.6 L972.5,580.9 L974.4,581.0M991.4,582.0 L993.2,582.1 L997.0,582.3 L1000.0,582.5" fill="none" stroke="#000000" stroke-width="3.1" stroke-linejoin="round"></path>
<path d="M567.9,256.2C568.1,254.6 568.1,248.8 569.0,246.6C569.9,244.4 572.2,244.1 573.3,243.3C574.4,242.5 575.0,241.8 575.8,241.6C576.6,241.4 577.3,242.8 578.3,242.0C579.3,241.2 580.4,238.9 581.6,236.6C582.9,234.3 584.5,230.2 585.8,228.3C587.0,226.4 588.1,225.7 589.1,225.4C590.1,225.1 591.2,224.9 592.0,226.6C592.8,228.3 593.5,233.2 594.1,235.8C594.7,238.4 595.1,241.2 595.8,242.4C596.5,243.6 597.4,243.8 598.2,242.8C599.0,241.8 599.7,238.2 600.7,236.6C601.7,235.0 602.7,232.9 604.0,233.5C605.3,234.1 607.2,239.9 608.5,240.0C609.8,240.1 610.8,234.8 612.0,234.0C613.2,233.2 614.5,234.0 615.7,235.0C616.9,236.0 617.8,238.6 619.0,240.0C620.2,241.4 621.6,243.4 623.1,243.7C624.6,244.0 626.9,241.2 628.1,241.6C629.4,241.9 629.8,244.0 630.6,245.8C631.4,247.6 632.3,249.9 633.1,252.4C633.9,254.9 634.8,259.0 635.6,260.7C636.4,262.4 637.1,263.0 638.1,262.4C639.1,261.8 639.7,255.7 641.4,257.0C643.1,258.4 646.2,266.7 648.4,270.5C650.6,274.3 653.0,277.1 654.7,279.9C656.4,282.7 657.5,284.5 658.5,287.4C659.5,290.3 660.2,294.0 661.0,297.3C661.8,300.6 662.6,305.0 663.4,307.3C664.2,309.6 665.0,309.8 666.0,311.0C667.0,312.2 668.7,312.5 669.7,314.8C670.7,317.1 671.2,320.7 672.2,324.7C673.2,328.7 674.7,335.1 676.0,338.7C677.3,342.3 678.8,343.0 679.8,346.1C680.8,349.2 680.6,353.0 682.2,357.4C683.8,361.8 687.7,368.5 689.4,372.7C691.1,376.9 690.9,377.8 692.2,382.3C693.5,386.8 695.9,395.3 697.2,399.7C698.5,404.1 698.3,404.3 699.8,408.7C701.3,413.1 703.9,421.1 706.0,426.1C708.1,431.1 710.3,434.7 712.2,438.6C714.1,442.6 715.5,446.3 717.2,449.8C718.9,453.3 720.1,456.2 722.2,459.8C724.3,463.4 727.5,467.2 730.0,471.2C732.5,475.2 735.2,480.0 737.3,483.7C739.3,487.4 740.0,490.3 742.3,493.6C744.6,496.9 748.0,500.7 751.0,503.6C754.0,506.5 757.0,508.5 760.0,511.0C763.0,513.5 765.4,515.6 768.7,518.5C772.0,521.4 776.2,525.6 779.7,528.5C783.2,531.4 785.3,533.0 790.0,536.0C794.7,539.0 803.0,544.2 808.0,546.5C813.0,548.8 816.2,548.2 819.8,549.5C823.4,550.8 825.2,552.4 829.8,554.2C834.4,556.1 842.4,559.1 847.4,560.6C852.4,562.1 855.2,562.0 859.7,563.0C864.2,564.0 869.6,565.7 874.1,566.8C878.6,567.9 881.6,568.7 887.0,569.7C892.4,570.8 899.9,572.1 906.5,573.1C913.1,574.1 921.2,575.4 926.6,576.0C932.0,576.6 934.0,576.6 938.9,576.9C943.8,577.2 951.2,577.2 955.8,577.7C960.4,578.2 963.2,579.5 966.5,580.0C969.8,580.5 971.6,580.5 975.5,580.8C979.4,581.0 985.5,581.3 989.6,581.5C993.7,581.7 998.3,581.8 1000.0,581.8" fill="none" stroke="#FF00FF" stroke-width="3.1" stroke-linejoin="round"></path>
<polygon points="567.9,246.2 577.7,256.2 567.9,266.2 558.1,256.2" fill="#FF00FF"></polygon>
<polygon points="608.5,232.3 618.3,242.3 608.5,252.3 598.7,242.3" fill="#FF00FF"></polygon>
<polygon points="648.4,260.5 658.2,270.5 648.4,280.5 638.6,270.5" fill="#FF00FF"></polygon>
<polygon points="689.4,362.7 699.2,372.7 689.4,382.7 679.6,372.7" fill="#FF00FF"></polygon>
<polygon points="730.0,461.2 739.8,471.2 730.0,481.2 720.2,471.2" fill="#FF00FF"></polygon>
<polygon points="768.7,508.5 778.5,518.5 768.7,528.5 758.9,518.5" fill="#FF00FF"></polygon>
<polygon points="808.0,536.5 817.8,546.5 808.0,556.5 798.2,546.5" fill="#FF00FF"></polygon>
<polygon points="847.4,550.6 857.2,560.6 847.4,570.6 837.6,560.6" fill="#FF00FF"></polygon>
<polygon points="887.0,559.7 896.8,569.7 887.0,579.7 877.2,569.7" fill="#FF00FF"></polygon>
<polygon points="926.6,566.0 936.4,576.0 926.6,586.0 916.8,576.0" fill="#FF00FF"></polygon>
<polygon points="966.5,570.0 976.3,580.0 966.5,590.0 956.7,580.0" fill="#FF00FF"></polygon>
<path d="M565.0,281.0C565.7,281.1 567.8,281.2 569.0,281.7C570.2,282.2 571.5,284.9 572.5,284.2C573.5,283.5 574.2,279.2 575.0,277.5C575.8,275.8 576.7,274.2 577.5,274.2C578.3,274.2 579.2,276.1 580.0,277.5C580.8,278.9 581.5,281.9 582.5,282.5C583.5,283.1 584.5,281.0 585.8,280.8C587.0,280.6 588.5,282.7 590.0,281.2C591.5,279.7 593.0,275.1 595.0,272.0C597.0,268.9 599.6,263.5 601.7,262.5C603.8,261.5 606.0,265.6 607.4,266.2C608.8,266.8 608.7,266.1 610.0,266.2C611.3,266.3 613.8,265.8 615.0,266.7C616.2,267.6 616.7,270.2 617.5,271.7C618.3,273.2 619.0,275.8 620.0,275.8C621.0,275.8 622.5,273.0 623.3,271.7C624.1,270.4 623.9,268.6 624.8,268.0C625.7,267.4 627.4,266.2 628.6,268.0C629.9,269.8 631.1,274.8 632.3,278.6C633.5,282.4 634.5,289.5 636.0,291.0C637.5,292.5 639.5,286.8 641.0,287.4C642.5,288.0 643.5,292.3 644.8,294.8C646.0,297.3 647.3,301.5 648.5,302.3C649.7,303.1 651.2,298.6 652.2,299.8C653.2,301.1 653.8,307.1 654.7,309.8C655.6,312.5 656.7,314.7 657.8,316.0C658.9,317.3 660.1,316.2 661.1,317.5C662.1,318.8 662.6,320.8 663.6,323.7C664.6,326.6 665.6,331.2 667.3,334.9C668.9,338.6 672.0,342.2 673.5,346.1C675.0,350.1 675.3,355.3 676.0,358.6C676.7,361.9 677.0,364.3 677.9,366.0C678.8,367.7 680.5,366.5 681.6,368.6C682.7,370.7 683.4,373.7 684.7,378.5C686.1,383.3 688.6,393.2 689.7,397.2C690.8,401.2 689.8,398.9 691.1,402.5C692.4,406.1 695.6,414.5 697.3,418.7C699.0,422.9 699.7,424.4 701.4,427.5C703.1,430.6 705.5,433.7 707.3,437.4C709.1,441.1 710.6,446.1 712.2,449.8C713.9,453.5 715.5,456.4 717.2,459.8C718.9,463.2 720.4,466.0 722.3,470.0C724.2,474.0 726.3,480.0 728.6,483.7C730.9,487.4 733.7,489.5 736.0,492.4C738.3,495.3 740.0,497.8 742.3,501.1C744.6,504.4 747.1,508.8 749.8,512.3C752.5,515.8 755.6,519.4 758.5,522.3C761.4,525.2 764.1,527.5 767.2,529.8C770.3,532.1 773.2,533.5 777.2,536.0C781.2,538.5 785.7,542.4 791.2,544.9C796.7,547.4 804.4,549.2 810.0,551.1C815.6,553.0 819.6,554.4 824.8,556.1C830.0,557.8 835.2,559.7 841.0,561.1C846.8,562.5 853.3,563.3 859.7,564.8C866.1,566.2 871.6,568.2 879.6,569.8C887.6,571.4 898.0,572.9 907.9,574.5C917.8,576.1 930.4,578.4 938.9,579.4C947.4,580.4 950.6,580.2 958.6,580.8C966.6,581.4 979.9,582.5 986.8,583.0C993.7,583.5 997.8,583.4 1000.0,583.5" fill="none" stroke="#0000FF" stroke-width="3.1" stroke-linejoin="round"></path>
<polygon points="601.7,251.5 604.3,258.9 612.2,259.1 605.9,263.9 608.2,271.4 601.7,266.9 595.2,271.4 597.5,263.9 591.2,259.1 599.1,258.9" fill="#0000FF"></polygon>
<polygon points="636.5,277.0 639.1,284.4 647.0,284.6 640.7,289.4 643.0,296.9 636.5,292.4 630.0,296.9 632.3,289.4 626.0,284.6 633.9,284.4" fill="#0000FF"></polygon>
<polygon points="665.5,333.0 668.1,340.4 676.0,340.6 669.7,345.4 672.0,352.9 665.5,348.4 659.0,352.9 661.3,345.4 655.0,340.6 662.9,340.4" fill="#0000FF"></polygon>
<polygon points="701.4,416.5 704.0,423.9 711.9,424.1 705.6,428.9 707.9,436.4 701.4,431.9 694.9,436.4 697.2,428.9 690.9,424.1 698.8,423.9" fill="#0000FF"></polygon>
<polygon points="732.0,483.5 734.6,490.9 742.5,491.1 736.2,495.9 738.5,503.4 732.0,498.9 725.5,503.4 727.8,495.9 721.5,491.1 729.4,490.9" fill="#0000FF"></polygon>
<polygon points="765.0,519.5 767.6,526.9 775.5,527.1 769.2,531.9 771.5,539.4 765.0,534.9 758.5,539.4 760.8,531.9 754.5,527.1 762.4,526.9" fill="#0000FF"></polygon>
<polygon points="798.0,540.5 800.6,547.9 808.5,548.1 802.2,552.9 804.5,560.4 798.0,555.9 791.5,560.4 793.8,552.9 787.5,548.1 795.4,547.9" fill="#0000FF"></polygon>
<polygon points="834.8,551.8 837.4,559.2 845.3,559.4 839.0,564.2 841.3,571.7 834.8,567.2 828.3,571.7 830.6,564.2 824.3,559.4 832.2,559.2" fill="#0000FF"></polygon>
<polygon points="868.0,559.6 870.6,567.0 878.5,567.2 872.2,572.0 874.5,579.5 868.0,575.0 861.5,579.5 863.8,572.0 857.5,567.2 865.4,567.0" fill="#0000FF"></polygon>
<polygon points="900.6,564.0 903.2,571.4 911.1,571.6 904.8,576.4 907.1,583.9 900.6,579.4 894.1,583.9 896.4,576.4 890.1,571.6 898.0,571.4" fill="#0000FF"></polygon>
<polygon points="934.1,569.4 936.7,576.8 944.6,577.0 938.3,581.8 940.6,589.3 934.1,584.8 927.6,589.3 929.9,581.8 923.6,577.0 931.5,576.8" fill="#0000FF"></polygon>
<polygon points="967.0,572.0 969.6,579.4 977.5,579.6 971.2,584.4 973.5,591.9 967.0,587.4 960.5,591.9 962.8,584.4 956.5,579.6 964.4,579.4" fill="#0000FF"></polygon>
<path d="M565.6,274.0C566.2,272.6 567.9,267.1 569.0,265.5C570.1,263.9 570.7,264.2 572.0,264.5C573.3,264.8 575.1,265.6 576.7,267.5C578.3,269.4 580.3,273.3 581.7,275.8C583.1,278.3 583.9,280.5 585.0,282.5C586.1,284.5 587.5,287.5 588.3,287.9C589.1,288.3 589.0,286.3 590.0,285.0C591.0,283.7 592.5,281.6 594.0,280.0C595.5,278.4 597.7,277.8 599.0,275.6C600.3,273.4 600.7,268.8 601.7,266.7C602.7,264.6 604.0,263.6 605.0,263.3C606.0,263.0 606.7,263.3 607.5,265.0C608.3,266.7 609.2,270.8 610.0,273.3C610.8,275.8 611.7,278.1 612.5,280.0C613.3,281.9 614.0,284.6 615.0,285.0C616.0,285.4 617.2,283.9 618.3,282.5C619.4,281.1 620.6,277.9 621.7,276.7C622.8,275.4 624.1,274.3 625.0,275.0C625.9,275.7 626.2,277.4 627.3,281.1C628.4,284.8 630.2,293.9 631.7,297.0C633.2,300.1 634.5,298.9 636.0,300.0C637.5,301.1 639.8,301.6 641.0,303.6C642.2,305.7 642.7,309.2 643.5,312.3C644.3,315.4 645.2,318.4 646.0,322.2C646.8,326.0 647.2,334.2 648.0,334.9C648.8,335.6 649.6,327.2 650.5,326.2C651.4,325.2 652.6,328.0 653.6,328.7C654.6,329.4 654.8,328.1 656.7,330.6C658.6,333.2 662.8,340.4 664.8,344.0C666.8,347.6 667.2,348.3 668.5,352.4C669.8,356.5 671.0,364.0 672.3,368.6C673.5,373.2 674.8,375.5 676.0,379.8C677.2,384.1 678.9,390.9 679.8,394.7C680.6,398.5 680.5,399.1 681.1,402.5C681.7,405.9 682.8,411.0 683.6,414.9C684.4,418.8 685.3,423.6 686.1,426.1C686.9,428.6 686.6,428.2 688.6,429.9C690.6,431.6 695.4,433.7 697.9,436.4C700.4,439.1 701.9,443.0 703.5,446.1C705.1,449.2 706.0,452.1 707.3,454.8C708.5,457.5 709.7,460.2 711.0,462.3C712.3,464.4 713.0,464.4 714.9,467.5C716.8,470.6 719.6,476.4 722.3,481.2C724.9,486.0 727.9,492.4 730.8,496.4C733.7,500.3 737.0,501.8 739.8,504.9C742.5,508.0 744.8,511.5 747.3,514.8C749.8,518.1 751.9,521.9 754.7,524.8C757.6,527.7 760.4,529.6 764.4,532.3C768.4,535.0 773.2,537.6 778.7,541.2C784.2,544.8 791.0,550.8 797.2,553.9C803.4,557.0 810.6,557.8 816.1,559.8C821.6,561.8 825.1,564.3 830.3,565.8C835.5,567.3 841.7,567.5 847.2,568.6C852.7,569.7 857.9,571.6 863.4,572.6C868.9,573.6 874.5,573.7 880.0,574.6C885.5,575.5 888.2,577.0 896.5,578.2C904.8,579.5 918.6,581.0 929.6,582.1C940.6,583.2 951.7,583.9 962.7,584.7C973.7,585.5 989.6,586.6 995.8,587.0C1002.0,587.4 999.3,587.2 1000.0,587.2" fill="none" stroke="#808080" stroke-width="3.1" stroke-linejoin="round"></path>
<polygon points="565.6,263.3 575.8,270.7 571.9,282.7 559.3,282.7 555.4,270.7" fill="#808080"></polygon>
<polygon points="599.0,264.9 609.2,272.3 605.3,284.3 592.7,284.3 588.8,272.3" fill="#808080"></polygon>
<polygon points="631.7,286.3 641.9,293.7 638.0,305.7 625.4,305.7 621.5,293.7" fill="#808080"></polygon>
<polygon points="664.8,333.3 675.0,340.7 671.1,352.7 658.5,352.7 654.6,340.7" fill="#808080"></polygon>
<polygon points="697.9,425.7 708.1,433.1 704.2,445.1 691.6,445.1 687.7,433.1" fill="#808080"></polygon>
<polygon points="730.8,485.7 741.0,493.1 737.1,505.1 724.5,505.1 720.6,493.1" fill="#808080"></polygon>
<polygon points="764.4,521.6 774.6,529.0 770.7,541.0 758.1,541.0 754.2,529.0" fill="#808080"></polygon>
<polygon points="797.2,543.2 807.4,550.6 803.5,562.6 790.9,562.6 787.0,550.6" fill="#808080"></polygon>
<polygon points="830.3,555.1 840.5,562.5 836.6,574.5 824.0,574.5 820.1,562.5" fill="#808080"></polygon>
<polygon points="863.4,561.9 873.6,569.3 869.7,581.3 857.1,581.3 853.2,569.3" fill="#808080"></polygon>
<polygon points="896.5,567.5 906.7,574.9 902.8,586.9 890.2,586.9 886.3,574.9" fill="#808080"></polygon>
<polygon points="929.6,571.4 939.8,578.8 935.9,590.8 923.3,590.8 919.4,578.8" fill="#808080"></polygon>
<polygon points="962.7,574.0 972.9,581.4 969.0,593.4 956.4,593.4 952.5,581.4" fill="#808080"></polygon>
<polygon points="995.8,576.3 1006.0,583.7 1002.1,595.7 989.5,595.7 985.6,583.7" fill="#808080"></polygon>
</g>
<line x1="316.2" y1="203.3" x2="377.0" y2="203.3" stroke="#008000" stroke-width="3.1"></line>
<rect x="339.1" y="195.8" width="15.0" height="15.0" fill="#fff" stroke="#008000" stroke-width="1.5"></rect>
<line x1="316.2" y1="246.4" x2="377.0" y2="246.4" stroke="#FF0000" stroke-width="3.1"></line>
<circle cx="346.6" cy="246.4" r="8.1" fill="#fff" stroke="#FF0000" stroke-width="1.5"></circle>
<line x1="316.2" y1="289.4" x2="377.0" y2="289.4" stroke="#808000" stroke-width="3.1"></line>
<polygon points="336.3,283.6 356.9,283.6 346.6,301.4" fill="#fff" stroke="#808000" stroke-width="1.6"></polygon>
<line x1="316.2" y1="332.4" x2="377.0" y2="332.4" stroke="#000000" stroke-width="3.1" stroke-dasharray="10 14.5"></line>
<line x1="316.2" y1="375.5" x2="377.0" y2="375.5" stroke="#FF00FF" stroke-width="3.1"></line>
<polygon points="346.6,363.5 357.4,375.5 346.6,387.5 335.8,375.5" fill="#FF00FF"></polygon>
<line x1="316.2" y1="418.6" x2="377.0" y2="418.6" stroke="#0000FF" stroke-width="3.1"></line>
<polygon points="346.6,407.6 349.2,415.0 357.1,415.2 350.8,419.9 353.1,427.4 346.6,422.9 340.1,427.4 342.4,419.9 336.1,415.2 344.0,415.0" fill="#0000FF"></polygon>
<line x1="316.2" y1="461.6" x2="377.0" y2="461.6" stroke="#808080" stroke-width="3.1"></line>
<polygon points="346.6,450.9 356.8,458.3 352.9,470.3 340.3,470.3 336.4,458.3" fill="#808080"></polygon>
<line x1="751.7" y1="211.9" x2="813.0" y2="211.9" stroke="#008000" stroke-width="3.1"></line>
<rect x="774.9" y="204.4" width="15.0" height="15.0" fill="#fff" stroke="#008000" stroke-width="1.5"></rect>
<line x1="751.7" y1="254.9" x2="813.0" y2="254.9" stroke="#FF0000" stroke-width="3.1"></line>
<circle cx="782.4" cy="254.9" r="8.1" fill="#fff" stroke="#FF0000" stroke-width="1.5"></circle>
<line x1="751.7" y1="297.9" x2="813.0" y2="297.9" stroke="#808000" stroke-width="3.1"></line>
<polygon points="772.1,292.1 792.6,292.1 782.4,309.9" fill="#fff" stroke="#808000" stroke-width="1.6"></polygon>
<line x1="751.7" y1="340.9" x2="813.0" y2="340.9" stroke="#000000" stroke-width="3.1" stroke-dasharray="10 14.5"></line>
<line x1="751.7" y1="383.9" x2="813.0" y2="383.9" stroke="#FF00FF" stroke-width="3.1"></line>
<polygon points="782.4,371.9 793.1,383.9 782.4,395.9 771.6,383.9" fill="#FF00FF"></polygon>
<line x1="751.7" y1="426.9" x2="813.0" y2="426.9" stroke="#0000FF" stroke-width="3.1"></line>
<polygon points="782.4,415.9 784.9,423.3 792.8,423.5 786.5,428.3 788.8,435.8 782.4,431.3 775.9,435.8 778.2,428.3 771.9,423.5 779.8,423.3" fill="#0000FF"></polygon>
<line x1="751.7" y1="469.9" x2="813.0" y2="469.9" stroke="#808080" stroke-width="3.1"></line>
<polygon points="782.4,459.2 792.5,466.6 788.6,478.6 776.1,478.6 772.2,466.6" fill="#808080"></polygon>
<rect x="129.0" y="2.5" width="424.0" height="601.0" fill="none" stroke="#000" stroke-width="2"></rect>
<rect x="569.0" y="1.0" width="430.5" height="601.0" fill="none" stroke="#000" stroke-width="2"></rect>
<g><text font-size="40" transform="translate(106.35,612.50) scale(1,1.053)">0</text></g>
<g><text font-size="40" transform="translate(106.35,533.40) scale(1,1.053)">5</text></g>
<g><path d="M550,0L742,0L742,1466L622,1466C592,1402 542,1338 472,1274C402,1210 305,1152 189,1102L189,915C258,941 328,974 398,1014C460,1050 515,1090 550,1128Z" transform="translate(84.10,454.30) scale(0.01953,-0.01953)"></path><text font-size="40" transform="translate(106.35,454.30) scale(1,1.053)">0</text></g>
<g><path d="M550,0L742,0L742,1466L622,1466C592,1402 542,1338 472,1274C402,1210 305,1152 189,1102L189,915C258,941 328,974 398,1014C460,1050 515,1090 550,1128Z" transform="translate(84.10,375.20) scale(0.01953,-0.01953)"></path><text font-size="40" transform="translate(106.35,375.20) scale(1,1.053)">5</text></g>
<g><text font-size="40" transform="translate(84.10,296.10) scale(1,1.053)">2</text><text font-size="40" transform="translate(106.33,296.10) scale(1,1.053)">0</text></g>
<g><text font-size="40" transform="translate(84.10,217.00) scale(1,1.053)">2</text><text font-size="40" transform="translate(106.33,217.00) scale(1,1.053)">5</text></g>
<g><text font-size="40" transform="translate(84.10,137.90) scale(1,1.053)">3</text><text font-size="40" transform="translate(106.33,137.90) scale(1,1.053)">0</text></g>
<g><text font-size="40" transform="translate(84.10,58.80) scale(1,1.053)">3</text><text font-size="40" transform="translate(106.33,58.80) scale(1,1.053)">5</text></g>
<g><text font-size="40" transform="translate(201.25,641.80) scale(1,1.053)">0</text><text font-size="40" x="223.48" y="641.80">.</text><text font-size="40" transform="translate(234.60,641.80) scale(1,1.053)">0</text></g>
<g><text font-size="40" transform="translate(643.05,640.30) scale(1,1.053)">0</text><text font-size="40" x="665.28" y="640.30">.</text><text font-size="40" transform="translate(676.40,640.30) scale(1,1.053)">0</text></g>
<g><text font-size="40" transform="translate(331.71,641.80) scale(1,1.053)">0</text><text font-size="40" x="353.94" y="641.80">.</text><text font-size="40" transform="translate(365.06,641.80) scale(1,1.053)">4</text></g>
<g><text font-size="40" transform="translate(775.51,640.30) scale(1,1.053)">0</text><text font-size="40" x="797.74" y="640.30">.</text><text font-size="40" transform="translate(808.86,640.30) scale(1,1.053)">4</text></g>
<g><text font-size="40" transform="translate(462.17,641.80) scale(1,1.053)">0</text><text font-size="40" x="484.40" y="641.80">.</text><text font-size="40" transform="translate(495.52,641.80) scale(1,1.053)">8</text></g>
<g><text font-size="40" transform="translate(907.97,640.30) scale(1,1.053)">0</text><text font-size="40" x="930.20" y="640.30">.</text><text font-size="40" transform="translate(941.32,640.30) scale(1,1.053)">8</text></g>
<g><text font-size="35.3" transform="translate(156.41,52.80) scale(1,1.053)">S</text><text font-size="35.3" x="179.94" y="52.80">i</text><text font-size="35.3" x="187.79" y="52.80">n</text><text font-size="35.3" x="207.41" y="52.80">g</text><text font-size="35.3" x="227.05" y="52.80">l</text><text font-size="35.3" x="234.89" y="52.80">e</text><text font-size="35.3" transform="translate(263.69,52.80) scale(1,1.053)">T</text><text font-size="35.3" x="283.94" y="52.80">r</text><text font-size="35.3" x="295.69" y="52.80">a</text><text font-size="35.3" x="315.33" y="52.80">n</text><text font-size="35.3" x="334.96" y="52.80">s</text><text font-size="35.3" x="352.60" y="52.80">i</text><text font-size="35.3" x="360.44" y="52.80">s</text><text font-size="35.3" x="378.10" y="52.80">t</text><text font-size="35.3" x="387.89" y="52.80">o</text><text font-size="35.3" x="407.54" y="52.80">r</text><text font-size="35.3" x="429.10" y="52.80">-</text><text font-size="35.3" transform="translate(450.64,52.80) scale(1,1.053)">O</text><text font-size="35.3" transform="translate(478.11,52.80) scale(1,1.053)">K</text><text font-size="35.3" transform="translate(501.64,52.80) scale(1,1.053)">I</text></g>
<g><text font-size="35" transform="translate(588.62,54.90) scale(1,1.053)">S</text><text font-size="35" x="611.96" y="54.90">e</text><text font-size="35" x="631.42" y="54.90">l</text><text font-size="35" x="639.20" y="54.90">f</text><text font-size="35" x="648.92" y="54.90">-</text><text font-size="35" transform="translate(660.57,54.90) scale(1,1.053)">C</text><text font-size="35" x="685.85" y="54.90">a</text><text font-size="35" x="705.32" y="54.90">s</text><text font-size="35" x="722.82" y="54.90">c</text><text font-size="35" x="740.32" y="54.90">o</text><text font-size="35" x="759.79" y="54.90">d</text><text font-size="35" x="779.24" y="54.90">e</text><text font-size="35" x="808.43" y="54.90">-</text><text font-size="35" transform="translate(829.82,54.90) scale(1,1.053)">O</text><text font-size="35" transform="translate(857.04,54.90) scale(1,1.053)">K</text><text font-size="35" transform="translate(880.39,54.90) scale(1,1.053)">I</text></g>
<g><text font-size="32.7" transform="translate(350.18,104.50) scale(1,1.053)">L</text><path d="M112,455L1083,455L1083,625L112,625ZM112,885L1083,885L1083,1055L112,1055Z" transform="translate(376.23,104.50) scale(0.01597,-0.01597)"></path><path d="M550,0L742,0L742,1466L622,1466C592,1402 542,1338 472,1274C402,1210 305,1152 189,1102L189,915C258,941 328,974 398,1014C460,1050 515,1090 550,1128Z" transform="translate(404.40,104.50) scale(0.01597,-0.01597)"></path><text font-size="32.7" transform="translate(422.59,104.50) scale(1,1.053)">5</text><text font-size="32.7" transform="translate(440.76,104.50) scale(1,1.053)">0</text><text font-size="32.7" x="468.02" y="104.50">n</text><text font-size="32.7" x="486.20" y="104.50">m</text></g>
<g><text font-size="32.7" transform="translate(350.04,150.80) scale(1,1.053)">V</text></g>
<g><text font-size="20" transform="translate(371.40,163.60) scale(1,1.053)">D</text><text font-size="20" transform="translate(385.84,163.60) scale(1,1.053)">S</text></g>
<g><path d="M112,455L1083,455L1083,625L112,625ZM112,885L1083,885L1083,1055L112,1055Z" transform="translate(407.67,150.80) scale(0.01597,-0.01597)"></path><path d="M550,0L742,0L742,1466L622,1466C592,1402 542,1338 472,1274C402,1210 305,1152 189,1102L189,915C258,941 328,974 398,1014C460,1050 515,1090 550,1128Z" transform="translate(435.84,150.80) scale(0.01597,-0.01597)"></path><text font-size="32.7" transform="translate(463.11,150.80) scale(1,1.053)">V</text></g>
<g><text font-size="32.5" transform="translate(632.44,99.30) scale(1,1.053)">V</text></g>
<g><text font-size="19.5" transform="translate(653.64,111.80) scale(1,1.053)">B</text><text font-size="19.5" transform="translate(666.64,111.80) scale(1,1.053)">S</text><text font-size="19.5" transform="translate(679.64,111.80) scale(1,1.053)">M</text><path d="M550,0L742,0L742,1466L622,1466C592,1402 542,1338 472,1274C402,1210 305,1152 189,1102L189,915C258,941 328,974 398,1014C460,1050 515,1090 550,1128Z" transform="translate(695.91,111.80) scale(0.00952,-0.00952)"></path></g>
<g><path d="M112,455L1083,455L1083,625L112,625ZM112,885L1083,885L1083,1055L112,1055Z" transform="translate(715.38,99.30) scale(0.01587,-0.01587)"></path><text font-size="32.5" transform="translate(743.38,99.30) scale(1,1.053)">0</text><text font-size="32.5" transform="translate(770.49,99.30) scale(1,1.053)">V</text></g>
<g><text font-size="32.5" transform="translate(632.60,150.20) scale(1,1.053)">L</text></g>
<g><text font-size="19.5" transform="translate(650.14,162.70) scale(1,1.053)">M</text><path d="M550,0L742,0L742,1466L622,1466C592,1402 542,1338 472,1274C402,1210 305,1152 189,1102L189,915C258,941 328,974 398,1014C460,1050 515,1090 550,1128Z" transform="translate(666.39,162.70) scale(0.00952,-0.00952)"></path></g>
<g><path d="M112,455L1083,455L1083,625L112,625ZM112,885L1083,885L1083,1055L112,1055Z" transform="translate(685.98,150.20) scale(0.01587,-0.01587)"></path></g>
<g><text font-size="32.5" transform="translate(713.80,150.20) scale(1,1.053)">L</text></g>
<g><text font-size="19.5" transform="translate(731.34,162.70) scale(1,1.053)">M</text><text font-size="19.5" transform="translate(747.57,162.70) scale(1,1.053)">2</text></g>
<g><path d="M112,455L1083,455L1083,625L112,625ZM112,885L1083,885L1083,1055L112,1055Z" transform="translate(767.27,150.20) scale(0.01587,-0.01587)"></path><path d="M550,0L742,0L742,1466L622,1466C592,1402 542,1338 472,1274C402,1210 305,1152 189,1102L189,915C258,941 328,974 398,1014C460,1050 515,1090 550,1128Z" transform="translate(795.29,150.20) scale(0.01587,-0.01587)"></path><text font-size="32.5" transform="translate(813.36,150.20) scale(1,1.053)">5</text><text font-size="32.5" transform="translate(831.43,150.20) scale(1,1.053)">0</text><text font-size="32.5" x="858.54" y="150.20">n</text><text font-size="32.5" x="876.61" y="150.20">m</text></g>
<g><text font-size="32.5" transform="translate(586.64,567.30) scale(1,1.053)">V</text></g>
<g><text font-size="19.5" transform="translate(606.84,580.00) scale(1,1.053)">D</text><text font-size="19.5" transform="translate(620.92,580.00) scale(1,1.053)">S</text></g>
<g><path d="M112,455L1083,455L1083,625L112,625ZM112,885L1083,885L1083,1055L112,1055Z" transform="translate(643.48,567.30) scale(0.01587,-0.01587)"></path><path d="M550,0L742,0L742,1466L622,1466C592,1402 542,1338 472,1274C402,1210 305,1152 189,1102L189,915C258,941 328,974 398,1014C460,1050 515,1090 550,1128Z" transform="translate(671.50,567.30) scale(0.01587,-0.01587)"></path><text font-size="32.5" transform="translate(698.59,567.30) scale(1,1.053)">V</text></g>
<g><text font-size="44.7" transform="translate(226.98,703.80) scale(1,1.053)">V</text></g>
<g><text font-size="26.7" transform="translate(256.47,721.40) scale(1,1.053)">G</text><text font-size="26.7" transform="translate(277.22,721.40) scale(1,1.053)">S</text></g>
<g><text font-size="44.7" x="306.69" y="703.80">-</text></g>
<g><text font-size="44.7" transform="translate(334.78,703.80) scale(1,1.053)">V</text></g>
<g><text font-size="26.7" transform="translate(364.47,721.40) scale(1,1.053)">T</text><text font-size="26.7" transform="translate(380.77,721.40) scale(1,1.053)">H</text></g>
<g><text font-size="44.7" x="412.77" y="703.80">[</text><text font-size="44.7" transform="translate(425.18,703.80) scale(1,1.053)">V</text><text font-size="44.7" x="454.99" y="703.80">]</text></g>
<g><text font-size="44.7" transform="translate(666.18,702.40) scale(1,1.053)">V</text></g>
<g><text font-size="26.7" transform="translate(695.46,720.00) scale(1,1.053)">G</text><text font-size="26.7" transform="translate(716.21,720.00) scale(1,1.053)">S</text></g>
<g><text font-size="44.7" x="745.89" y="702.40">-</text></g>
<g><text font-size="44.7" transform="translate(773.98,702.40) scale(1,1.053)">V</text></g>
<g><text font-size="26.7" transform="translate(803.67,720.00) scale(1,1.053)">T</text><text font-size="26.7" transform="translate(819.97,720.00) scale(1,1.053)">H</text></g>
<g><text font-size="44.7" x="851.57" y="702.40">[</text><text font-size="44.7" transform="translate(863.98,702.40) scale(1,1.053)">V</text><text font-size="44.7" x="893.79" y="702.40">]</text></g>
<g><text font-size="27.6" transform="translate(384.66,212.80) scale(1,1.053)">V</text></g>
<g><text font-size="16.4" transform="translate(402.59,223.50) scale(1,1.053)">B</text><text font-size="16.4" transform="translate(413.51,223.50) scale(1,1.053)">S</text></g>
<g><path d="M112,455L1083,455L1083,625L112,625ZM112,885L1083,885L1083,1055L112,1055Z" transform="translate(432.02,212.80) scale(0.01348,-0.01348)"></path></g>
<g><text font-size="27.6" x="454.06" y="212.80">-</text><text font-size="27.6" transform="translate(463.25,212.80) scale(1,1.053)">2</text><text font-size="27.6" transform="translate(478.59,212.80) scale(1,1.053)">0</text><text font-size="27.6" transform="translate(501.61,212.80) scale(1,1.053)">V</text></g>
<g><text font-size="27.6" transform="translate(384.66,255.85) scale(1,1.053)">V</text></g>
<g><text font-size="16.4" transform="translate(402.59,266.55) scale(1,1.053)">B</text><text font-size="16.4" transform="translate(413.51,266.55) scale(1,1.053)">S</text></g>
<g><path d="M112,455L1083,455L1083,625L112,625ZM112,885L1083,885L1083,1055L112,1055Z" transform="translate(432.02,255.85) scale(0.01348,-0.01348)"></path></g>
<g><text font-size="27.6" x="454.06" y="255.85">-</text><path d="M550,0L742,0L742,1466L622,1466C592,1402 542,1338 472,1274C402,1210 305,1152 189,1102L189,915C258,941 328,974 398,1014C460,1050 515,1090 550,1128Z" transform="translate(463.26,255.85) scale(0.01348,-0.01348)"></path><text font-size="27.6" transform="translate(478.62,255.85) scale(1,1.053)">0</text><text font-size="27.6" transform="translate(501.62,255.85) scale(1,1.053)">V</text></g>
<g><text font-size="27.6" transform="translate(384.66,298.90) scale(1,1.053)">V</text></g>
<g><text font-size="16.4" transform="translate(402.59,309.60) scale(1,1.053)">B</text><text font-size="16.4" transform="translate(413.51,309.60) scale(1,1.053)">S</text></g>
<g><path d="M112,455L1083,455L1083,625L112,625ZM112,885L1083,885L1083,1055L112,1055Z" transform="translate(432.02,298.90) scale(0.01348,-0.01348)"></path></g>
<g><text font-size="27.6" x="454.06" y="298.90">-</text><text font-size="27.6" transform="translate(463.25,298.90) scale(1,1.053)">5</text><text font-size="27.6" transform="translate(486.25,298.90) scale(1,1.053)">V</text></g>
<g><text font-size="27.6" transform="translate(384.66,341.95) scale(1,1.053)">V</text></g>
<g><text font-size="16.4" transform="translate(402.59,352.65) scale(1,1.053)">B</text><text font-size="16.4" transform="translate(413.51,352.65) scale(1,1.053)">S</text></g>
<g><path d="M112,455L1083,455L1083,625L112,625ZM112,885L1083,885L1083,1055L112,1055Z" transform="translate(432.02,341.95) scale(0.01348,-0.01348)"></path></g>
<g><text font-size="27.6" transform="translate(454.20,341.95) scale(1,1.053)">0</text><text font-size="27.6" transform="translate(477.20,341.95) scale(1,1.053)">V</text></g>
<g><text font-size="27.6" transform="translate(384.66,385.00) scale(1,1.053)">V</text></g>
<g><text font-size="16.4" transform="translate(402.59,395.70) scale(1,1.053)">B</text><text font-size="16.4" transform="translate(413.51,395.70) scale(1,1.053)">S</text></g>
<g><path d="M112,455L1083,455L1083,625L112,625ZM112,885L1083,885L1083,1055L112,1055Z" transform="translate(432.02,385.00) scale(0.01348,-0.01348)"></path></g>
<g><text font-size="27.6" transform="translate(454.20,385.00) scale(1,1.053)">5</text><text font-size="27.6" transform="translate(477.20,385.00) scale(1,1.053)">V</text></g>
<g><text font-size="27.6" transform="translate(384.66,428.05) scale(1,1.053)">V</text></g>
<g><text font-size="16.4" transform="translate(402.59,438.75) scale(1,1.053)">B</text><text font-size="16.4" transform="translate(413.51,438.75) scale(1,1.053)">S</text></g>
<g><path d="M112,455L1083,455L1083,625L112,625ZM112,885L1083,885L1083,1055L112,1055Z" transform="translate(432.02,428.05) scale(0.01348,-0.01348)"></path></g>
<g><path d="M550,0L742,0L742,1466L622,1466C592,1402 542,1338 472,1274C402,1210 305,1152 189,1102L189,915C258,941 328,974 398,1014C460,1050 515,1090 550,1128Z" transform="translate(453.23,428.05) scale(0.01348,-0.01348)"></path><text font-size="27.6" transform="translate(468.59,428.05) scale(1,1.053)">0</text><text font-size="27.6" transform="translate(491.59,428.05) scale(1,1.053)">V</text></g>
<g><text font-size="27.6" transform="translate(384.66,471.10) scale(1,1.053)">V</text></g>
<g><text font-size="16.4" transform="translate(402.59,481.80) scale(1,1.053)">B</text><text font-size="16.4" transform="translate(413.51,481.80) scale(1,1.053)">S</text></g>
<g><path d="M112,455L1083,455L1083,625L112,625ZM112,885L1083,885L1083,1055L112,1055Z" transform="translate(432.02,471.10) scale(0.01348,-0.01348)"></path></g>
<g><text font-size="27.6" transform="translate(453.92,471.10) scale(1,1.053)">2</text><text font-size="27.6" transform="translate(469.26,471.10) scale(1,1.053)">0</text><text font-size="27.6" transform="translate(492.26,471.10) scale(1,1.053)">V</text></g>
<g><text font-size="27.8" transform="translate(820.46,221.60) scale(1,1.053)">V</text></g>
<g><text font-size="16.4" transform="translate(838.19,232.50) scale(1,1.053)">B</text><text font-size="16.4" transform="translate(849.11,232.50) scale(1,1.053)">S</text><text font-size="16.4" transform="translate(860.05,232.50) scale(1,1.053)">M</text><text font-size="16.4" transform="translate(873.71,232.50) scale(1,1.053)">2</text></g>
<g><path d="M112,455L1083,455L1083,625L112,625ZM112,885L1083,885L1083,1055L112,1055Z" transform="translate(889.41,221.60) scale(0.01357,-0.01357)"></path></g>
<g><text font-size="27.8" x="912.45" y="221.60">-</text><text font-size="27.8" transform="translate(921.70,221.60) scale(1,1.053)">2</text><text font-size="27.8" transform="translate(937.15,221.60) scale(1,1.053)">0</text><text font-size="27.8" transform="translate(960.34,221.60) scale(1,1.053)">V</text></g>
<g><text font-size="27.8" transform="translate(820.46,264.60) scale(1,1.053)">V</text></g>
<g><text font-size="16.4" transform="translate(838.19,275.50) scale(1,1.053)">B</text><text font-size="16.4" transform="translate(849.11,275.50) scale(1,1.053)">S</text><text font-size="16.4" transform="translate(860.05,275.50) scale(1,1.053)">M</text><text font-size="16.4" transform="translate(873.71,275.50) scale(1,1.053)">2</text></g>
<g><path d="M112,455L1083,455L1083,625L112,625ZM112,885L1083,885L1083,1055L112,1055Z" transform="translate(889.41,264.60) scale(0.01357,-0.01357)"></path></g>
<g><text font-size="27.8" x="912.45" y="264.60">-</text><path d="M550,0L742,0L742,1466L622,1466C592,1402 542,1338 472,1274C402,1210 305,1152 189,1102L189,915C258,941 328,974 398,1014C460,1050 515,1090 550,1128Z" transform="translate(921.72,264.60) scale(0.01357,-0.01357)"></path><text font-size="27.8" transform="translate(937.18,264.60) scale(1,1.053)">0</text><text font-size="27.8" transform="translate(960.36,264.60) scale(1,1.053)">V</text></g>
<g><text font-size="27.8" transform="translate(820.46,307.60) scale(1,1.053)">V</text></g>
<g><text font-size="16.4" transform="translate(838.19,318.50) scale(1,1.053)">B</text><text font-size="16.4" transform="translate(849.11,318.50) scale(1,1.053)">S</text><text font-size="16.4" transform="translate(860.05,318.50) scale(1,1.053)">M</text><text font-size="16.4" transform="translate(873.71,318.50) scale(1,1.053)">2</text></g>
<g><path d="M112,455L1083,455L1083,625L112,625ZM112,885L1083,885L1083,1055L112,1055Z" transform="translate(889.41,307.60) scale(0.01357,-0.01357)"></path></g>
<g><text font-size="27.8" x="912.45" y="307.60">-</text><text font-size="27.8" transform="translate(921.70,307.60) scale(1,1.053)">5</text><text font-size="27.8" transform="translate(944.89,307.60) scale(1,1.053)">V</text></g>
<g><text font-size="27.8" transform="translate(820.46,350.60) scale(1,1.053)">V</text></g>
<g><text font-size="16.4" transform="translate(838.19,361.50) scale(1,1.053)">B</text><text font-size="16.4" transform="translate(849.11,361.50) scale(1,1.053)">S</text><text font-size="16.4" transform="translate(860.05,361.50) scale(1,1.053)">M</text><text font-size="16.4" transform="translate(873.71,361.50) scale(1,1.053)">2</text></g>
<g><path d="M112,455L1083,455L1083,625L112,625ZM112,885L1083,885L1083,1055L112,1055Z" transform="translate(889.41,350.60) scale(0.01357,-0.01357)"></path></g>
<g><text font-size="27.8" transform="translate(912.59,350.60) scale(1,1.053)">0</text><text font-size="27.8" transform="translate(935.76,350.60) scale(1,1.053)">V</text></g>
<g><text font-size="27.8" transform="translate(820.46,393.60) scale(1,1.053)">V</text></g>
<g><text font-size="16.4" transform="translate(838.19,404.50) scale(1,1.053)">B</text><text font-size="16.4" transform="translate(849.11,404.50) scale(1,1.053)">S</text><text font-size="16.4" transform="translate(860.05,404.50) scale(1,1.053)">M</text><text font-size="16.4" transform="translate(873.71,404.50) scale(1,1.053)">2</text></g>
<g><path d="M112,455L1083,455L1083,625L112,625ZM112,885L1083,885L1083,1055L112,1055Z" transform="translate(889.41,393.60) scale(0.01357,-0.01357)"></path></g>
<g><text font-size="27.8" transform="translate(912.59,393.60) scale(1,1.053)">5</text><text font-size="27.8" transform="translate(935.76,393.60) scale(1,1.053)">V</text></g>
<g><text font-size="27.8" transform="translate(820.46,436.60) scale(1,1.053)">V</text></g>
<g><text font-size="16.4" transform="translate(838.19,447.50) scale(1,1.053)">B</text><text font-size="16.4" transform="translate(849.11,447.50) scale(1,1.053)">S</text><text font-size="16.4" transform="translate(860.05,447.50) scale(1,1.053)">M</text><text font-size="16.4" transform="translate(873.71,447.50) scale(1,1.053)">2</text></g>
<g><path d="M112,455L1083,455L1083,625L112,625ZM112,885L1083,885L1083,1055L112,1055Z" transform="translate(889.41,436.60) scale(0.01357,-0.01357)"></path></g>
<g><path d="M550,0L742,0L742,1466L622,1466C592,1402 542,1338 472,1274C402,1210 305,1152 189,1102L189,915C258,941 328,974 398,1014C460,1050 515,1090 550,1128Z" transform="translate(911.62,436.60) scale(0.01357,-0.01357)"></path><text font-size="27.8" transform="translate(927.09,436.60) scale(1,1.053)">0</text><text font-size="27.8" transform="translate(950.26,436.60) scale(1,1.053)">V</text></g>
<g><text font-size="27.8" transform="translate(820.46,479.60) scale(1,1.053)">V</text></g>
<g><text font-size="16.4" transform="translate(838.19,490.50) scale(1,1.053)">B</text><text font-size="16.4" transform="translate(849.11,490.50) scale(1,1.053)">S</text><text font-size="16.4" transform="translate(860.05,490.50) scale(1,1.053)">M</text><text font-size="16.4" transform="translate(873.71,490.50) scale(1,1.053)">2</text></g>
<g><path d="M112,455L1083,455L1083,625L112,625ZM112,885L1083,885L1083,1055L112,1055Z" transform="translate(889.41,479.60) scale(0.01357,-0.01357)"></path></g>
<g><text font-size="27.8" transform="translate(912.31,479.60) scale(1,1.053)">2</text><text font-size="27.8" transform="translate(927.76,479.60) scale(1,1.053)">0</text><text font-size="27.8" transform="translate(950.95,479.60) scale(1,1.053)">V</text></g>
<g transform="rotate(-90)"><text font-size="44.7" x="-410.89" y="43.60">g</text></g>
<g transform="rotate(-90)"><text font-size="27.4" x="-385.58" y="61.10">m</text></g>
<g transform="rotate(-90)"><text font-size="44.7" x="-362.40" y="43.60">/</text><text font-size="44.7" transform="translate(-349.99,43.60) scale(1,1.053)">I</text></g>
<g transform="rotate(-90)"><text font-size="27.4" transform="translate(-338.59,61.10) scale(1,1.053)">D</text><text font-size="27.4" transform="translate(-318.82,61.10) scale(1,1.053)">S</text></g>
<g transform="rotate(-90)"><text font-size="44.7" x="-286.93" y="43.60">[</text><text font-size="44.7" transform="translate(-274.52,43.60) scale(1,1.053)">V</text></g>
<g transform="rotate(-90)"><text font-size="27.4" x="-245.03" y="19.00">-</text><path d="M550,0L742,0L742,1466L622,1466C592,1402 542,1338 472,1274C402,1210 305,1152 189,1102L189,915C258,941 328,974 398,1014C460,1050 515,1090 550,1128Z" transform="translate(-235.90,19.00) scale(0.01338,-0.01338)"></path></g>
<g transform="rotate(-90)"><text font-size="44.7" x="-220.22" y="43.60">]</text></g>
</svg>
</body></html>
